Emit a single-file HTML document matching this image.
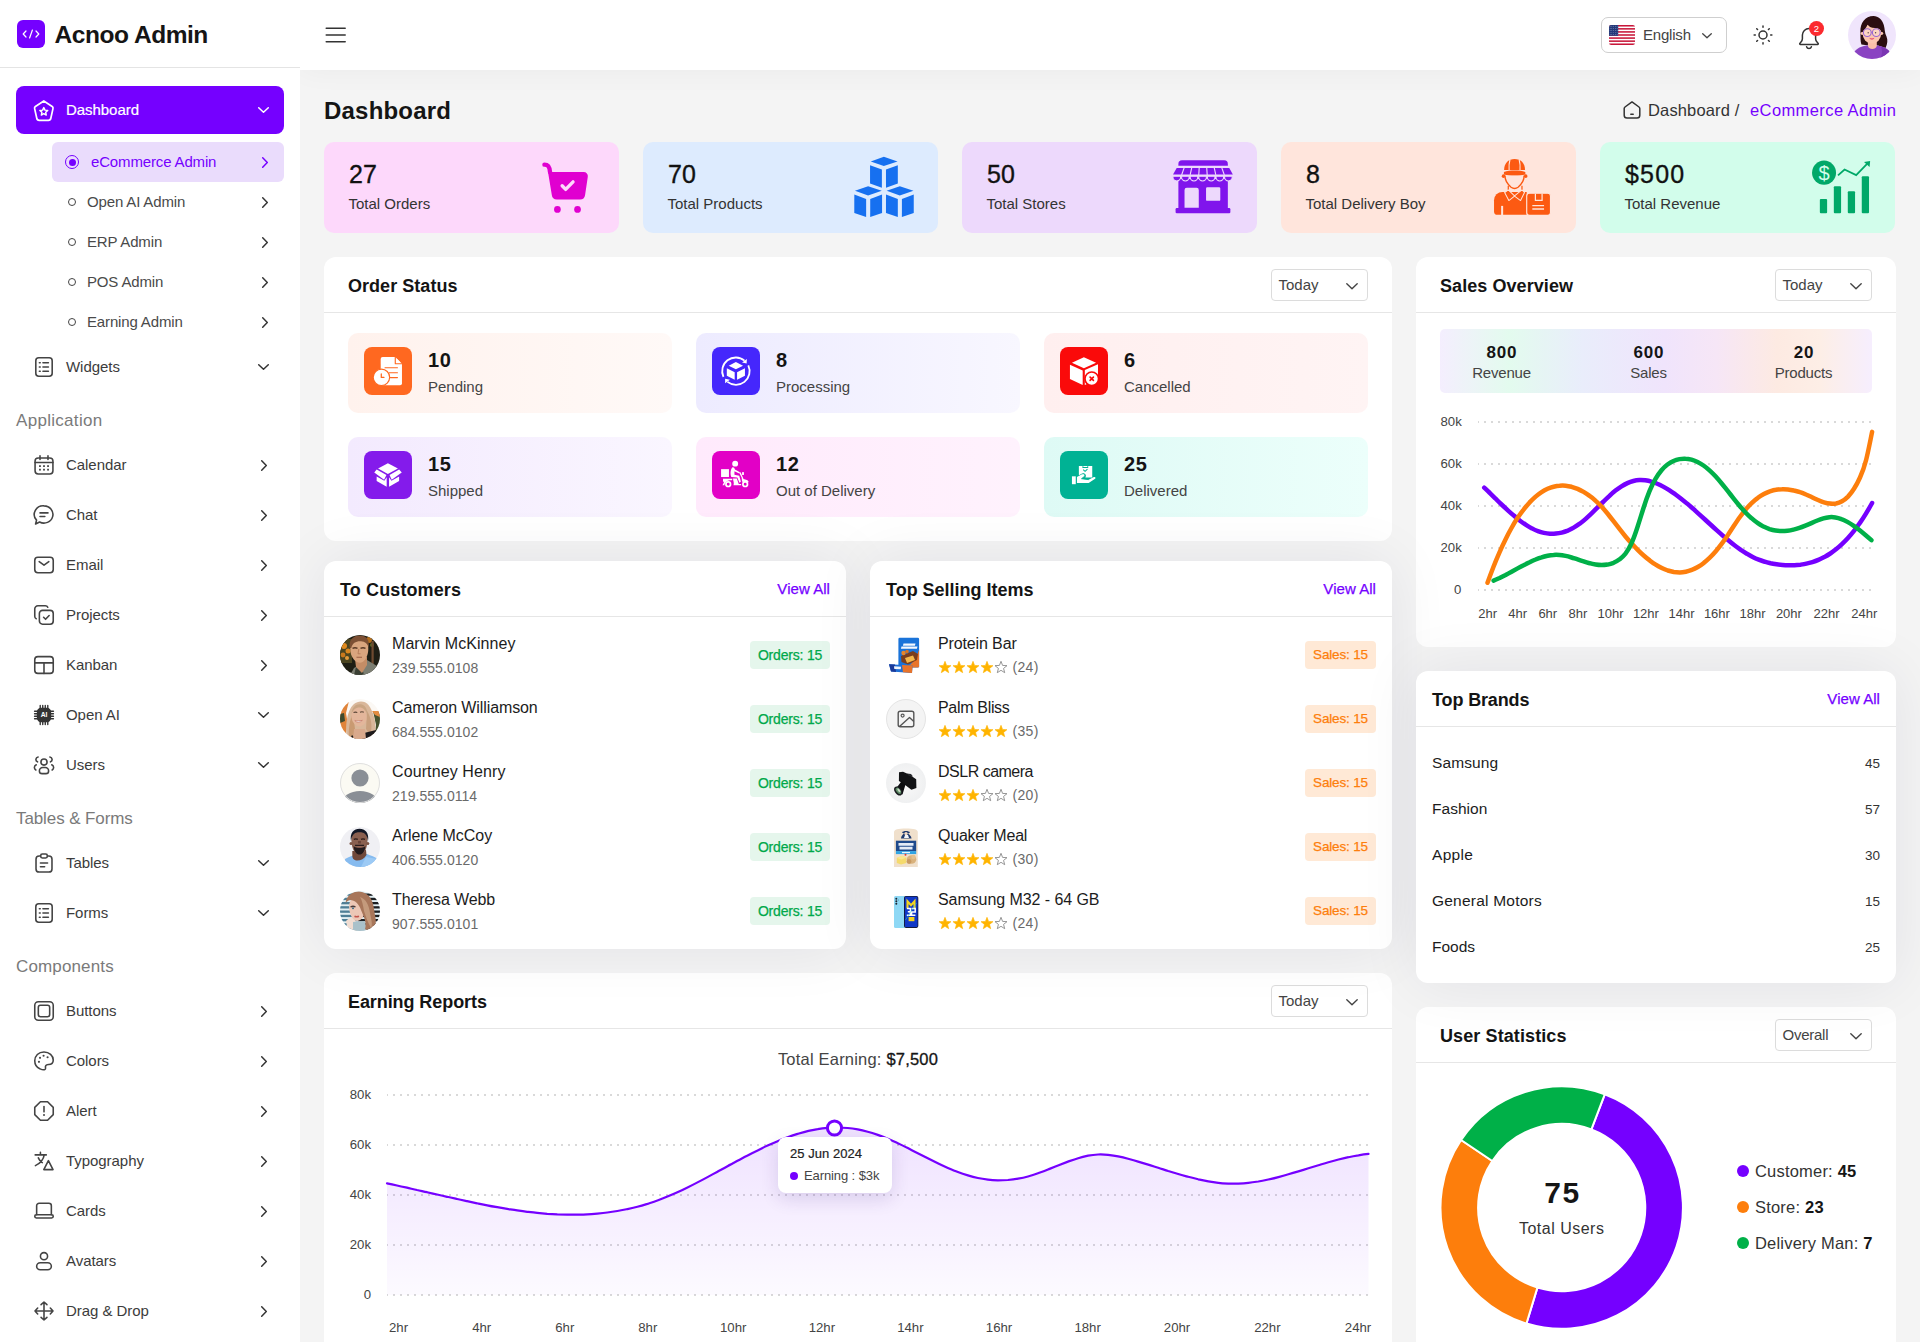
<!DOCTYPE html>
<html lang="en"><head><meta charset="utf-8"><title>Acnoo Admin</title>
<style>

*{box-sizing:border-box;margin:0;padding:0}
html,body{width:1920px;height:1342px;overflow:hidden}
body{font-family:"Liberation Sans",sans-serif;background:#f4f4f4;color:#222;position:relative;font-size:15px}
.abs{position:absolute}
.t{position:absolute;white-space:nowrap;line-height:1}
svg{display:block;overflow:visible}
#sidebar{position:absolute;left:0;top:0;width:300px;height:1342px;background:#fff;z-index:3}
#sbhead{position:absolute;left:0;top:0;width:300px;height:68px;border-bottom:1px solid #e4e4e4}
#topbar{position:absolute;left:300px;top:0;width:1620px;height:70px;background:#fff;box-shadow:0 0 30px rgba(0,0,0,0.045)}
.card{position:absolute;background:#fff;border-radius:12px}
.sh{box-shadow:0 0 60px rgba(28,28,60,0.080)}
.chead{position:absolute;left:0;top:0;right:0;height:56px;border-bottom:1px solid #e6e6e6}
.ctitle{position:absolute;font-weight:700;font-size:18px;line-height:1;color:#141414;white-space:nowrap}
.sel{position:absolute;width:97px;height:32px;border:1px solid #dcdcdc;border-radius:4px;background:#fff}
.sel span{position:absolute;left:6.500px;top:7px;font-size:15px;line-height:1;color:#444}
.sel svg{position:absolute;right:9.500px;top:12.500px}
.viewall{position:absolute;font-size:15px;line-height:1;color:#7500ff;white-space:nowrap;letter-spacing:0.050px;-webkit-text-stroke:0.250px #7500ff}
.mi{position:absolute;left:66px;font-size:15px;line-height:1;color:#3c3c3c;white-space:nowrap;letter-spacing:-0.050px;margin-top:-1px}
.sec{position:absolute;left:16px;font-size:17px;line-height:1;color:#7a7a7a;white-space:nowrap}
.smi{position:absolute;left:87px;font-size:15px;line-height:1;color:#4a4a4a;white-space:nowrap;letter-spacing:-0.150px;margin-top:-1px}
.ic{position:absolute;left:34px;width:20px;height:20px;transform:scale(1.05)}
.chev{position:absolute}
.stat{position:absolute;top:142px;width:295px;height:91px;border-radius:10px}
.stat .n{position:absolute;left:25px;top:20px;font-size:25px;line-height:1;color:#111;-webkit-text-stroke:0.350px #111}
.stat .l{position:absolute;left:24.500px;top:54px;font-size:15px;line-height:1;color:#333}
.tile{position:absolute;width:324px;height:80px;border-radius:10px}
.tile .ib{position:absolute;left:16px;top:14px;width:48px;height:48px;border-radius:8px}
.tile .n{position:absolute;left:80px;top:17px;font-size:20px;font-weight:700;line-height:1;color:#141414;letter-spacing:0.600px}
.tile .l{position:absolute;left:80px;top:46px;font-size:15px;line-height:1;color:#444}

</style></head>
<body>
<div id="sidebar">
<div id="sbhead"><div class="abs" style="left:17px;top:20px;width:28px;height:28px;border-radius:6px;background:#7500ff"></div><svg class="abs" style="left:22px;top:29px" width="18" height="10" viewBox="0 0 18 10"><path d="M4,2 L1.2,5 L4,8 M14,2 L16.800,5 L14,8 M10.400,1 L7.600,9" fill="none" stroke="#fff" stroke-width="1.200" stroke-linecap="round" stroke-linejoin="round"/></svg><div class="t" style="left:54.500px;top:22.900px;font-size:24.500px;font-weight:700;color:#151515;letter-spacing:-0.450px">Acnoo Admin</div></div>
<div class="abs" style="left:16px;top:86px;width:268px;height:48px;border-radius:8px;background:#7500ff"></div>
<svg class="ic" style="left:33.200px;top:99.800px;width:21.600px;height:21.600px" viewBox="0 0 20 20"><path d="M10,1.300 L17.400,6.200 a1.800,1.800 0 0 1 0.700,1.900 L16.200,16.600 a2.200,2.200 0 0 1 -2.200,1.800 H6 a2.200,2.200 0 0 1 -2.200,-1.800 L1.900,8.100 a1.800,1.800 0 0 1 0.700,-1.900z" fill="none" stroke="#fff" stroke-width="1.500" stroke-linejoin="round"/><path d="M10,7.200 l1.050,2.200 l2.400,0.300 l-1.750,1.650 l0.450,2.400 l-2.150,-1.200 l-2.150,1.200 l0.450,-2.400 l-1.750,-1.650 l2.400,-0.300z" fill="none" stroke="#fff" stroke-width="1.300" stroke-linejoin="round"/></svg>
<div class="mi" style="top:102.700px;color:#fff;-webkit-text-stroke:0.200px #fff">Dashboard</div>
<svg class="chev" style="left:257.5px;top:107.0px" width="11" height="6" viewBox="0 0 11 6"><path d="M0.7,0.7 L5.5,5.3 L10.3,0.7" fill="none" stroke="#fff" stroke-width="1.5" stroke-linecap="round" stroke-linejoin="round"/></svg>
<div class="abs" style="left:52px;top:142px;width:232px;height:40px;border-radius:6px;background:#eadcfc"></div>
<div class="abs" style="left:65px;top:155px;width:14px;height:14px;border-radius:50%;border:1.500px solid #7500ff"></div><div class="abs" style="left:68.500px;top:158.500px;width:7px;height:7px;border-radius:50%;background:#7500ff"></div>
<div class="smi" style="left:91px;top:154.500px;color:#7500ff">eCommerce Admin</div>
<svg class="chev" style="left:261.5px;top:156.5px" width="6" height="11" viewBox="0 0 6 11"><path d="M0.7,0.7 L5.3,5.5 L0.7,10.3" fill="none" stroke="#7500ff" stroke-width="1.5" stroke-linecap="round" stroke-linejoin="round"/></svg>
<div class="abs" style="left:68px;top:198px;width:8px;height:8px;border-radius:50%;border:1.500px solid #444"></div>
<div class="smi" style="top:194.5px">Open AI Admin</div>
<svg class="chev" style="left:261.5px;top:196.5px" width="6" height="11" viewBox="0 0 6 11"><path d="M0.7,0.7 L5.3,5.5 L0.7,10.3" fill="none" stroke="#333" stroke-width="1.5" stroke-linecap="round" stroke-linejoin="round"/></svg>
<div class="abs" style="left:68px;top:238px;width:8px;height:8px;border-radius:50%;border:1.500px solid #444"></div>
<div class="smi" style="top:234.5px">ERP Admin</div>
<svg class="chev" style="left:261.5px;top:236.5px" width="6" height="11" viewBox="0 0 6 11"><path d="M0.7,0.7 L5.3,5.5 L0.7,10.3" fill="none" stroke="#333" stroke-width="1.5" stroke-linecap="round" stroke-linejoin="round"/></svg>
<div class="abs" style="left:68px;top:278px;width:8px;height:8px;border-radius:50%;border:1.500px solid #444"></div>
<div class="smi" style="top:274.5px">POS Admin</div>
<svg class="chev" style="left:261.5px;top:276.5px" width="6" height="11" viewBox="0 0 6 11"><path d="M0.7,0.7 L5.3,5.5 L0.7,10.3" fill="none" stroke="#333" stroke-width="1.5" stroke-linecap="round" stroke-linejoin="round"/></svg>
<div class="abs" style="left:68px;top:318px;width:8px;height:8px;border-radius:50%;border:1.500px solid #444"></div>
<div class="smi" style="top:314.5px">Earning Admin</div>
<svg class="chev" style="left:261.5px;top:316.5px" width="6" height="11" viewBox="0 0 6 11"><path d="M0.7,0.7 L5.3,5.5 L0.7,10.3" fill="none" stroke="#333" stroke-width="1.5" stroke-linecap="round" stroke-linejoin="round"/></svg>
<svg class="ic" style="left:34px;top:357px" viewBox="0 0 20 20"><rect x="2.2" y="1.2" width="15.6" height="17.6" rx="2.8" fill="none" stroke="#444" stroke-width="1.5" stroke-linecap="round" stroke-linejoin="round"/><path d="M9,6h5.2M9,10h5.2M9,14h5.2" fill="none" stroke="#444" stroke-width="1.5" stroke-linecap="round" stroke-linejoin="round"/><path d="M5.6,6h.8M5.6,10h.8M5.6,14h.8" fill="none" stroke="#444" stroke-width="1.5" stroke-linecap="round" stroke-linejoin="round"/></svg>
<div class="mi" style="top:359.5px">Widgets</div>
<svg class="chev" style="left:257.5px;top:364.0px" width="11" height="6" viewBox="0 0 11 6"><path d="M0.7,0.7 L5.5,5.3 L10.3,0.7" fill="none" stroke="#333" stroke-width="1.5" stroke-linecap="round" stroke-linejoin="round"/></svg>
<svg class="ic" style="left:34px;top:455px" viewBox="0 0 20 20"><rect x="1.5" y="3.3" width="17" height="15.2" rx="3" fill="none" stroke="#444" stroke-width="1.5" stroke-linecap="round" stroke-linejoin="round"/><path d="M1.5,7.6h17M6.2,1.2v3.6M13.8,1.2v3.6" fill="none" stroke="#444" stroke-width="1.5" stroke-linecap="round" stroke-linejoin="round"/><g fill="#444"><rect x="5.3" y="10.2" width="1.7" height="1.7"/><rect x="9.15" y="10.2" width="1.7" height="1.7"/><rect x="13" y="10.2" width="1.7" height="1.7"/><rect x="5.3" y="13.6" width="1.7" height="1.7"/><rect x="9.15" y="13.6" width="1.7" height="1.7"/><rect x="13" y="13.6" width="1.7" height="1.7"/></g></svg>
<div class="mi" style="top:457.5px">Calendar</div>
<svg class="chev" style="left:260.5px;top:459.5px" width="6" height="11" viewBox="0 0 6 11"><path d="M0.7,0.7 L5.3,5.5 L0.7,10.3" fill="none" stroke="#333" stroke-width="1.5" stroke-linecap="round" stroke-linejoin="round"/></svg>
<svg class="ic" style="left:34px;top:505px" viewBox="0 0 20 20"><path d="M10,1.3a8.6,8.2 0 1 1 -4.2,15.4 L2,18.6 l0.9,-3.7 A8.6,8.2 0 0 1 10,1.3z" fill="none" stroke="#444" stroke-width="1.5" stroke-linecap="round" stroke-linejoin="round"/><path d="M6.2,8h7.6M6.2,11.4h4.6" fill="none" stroke="#444" stroke-width="1.5" stroke-linecap="round" stroke-linejoin="round"/></svg>
<div class="mi" style="top:507.5px">Chat</div>
<svg class="chev" style="left:260.5px;top:509.5px" width="6" height="11" viewBox="0 0 6 11"><path d="M0.7,0.7 L5.3,5.5 L0.7,10.3" fill="none" stroke="#333" stroke-width="1.5" stroke-linecap="round" stroke-linejoin="round"/></svg>
<svg class="ic" style="left:34px;top:555px" viewBox="0 0 20 20"><rect x="1.2" y="2.6" width="17.6" height="14.8" rx="3" fill="none" stroke="#444" stroke-width="1.5" stroke-linecap="round" stroke-linejoin="round"/><path d="M5.4,6.8 L10,10.2 L14.6,6.8" fill="none" stroke="#444" stroke-width="1.5" stroke-linecap="round" stroke-linejoin="round"/></svg>
<div class="mi" style="top:557.5px">Email</div>
<svg class="chev" style="left:260.5px;top:559.5px" width="6" height="11" viewBox="0 0 6 11"><path d="M0.7,0.7 L5.3,5.5 L0.7,10.3" fill="none" stroke="#333" stroke-width="1.5" stroke-linecap="round" stroke-linejoin="round"/></svg>
<svg class="ic" style="left:34px;top:605px" viewBox="0 0 20 20"><rect x="5.6" y="5.6" width="13.2" height="13.2" rx="3" fill="none" stroke="#444" stroke-width="1.5" stroke-linecap="round" stroke-linejoin="round"/><path d="M2.6,13.6 C1.6,13.2 1.2,12.4 1.2,11.2 V4.2 a3,3 0 0 1 3,-3 h7 c1.2,0 2,0.4 2.4,1.4" fill="none" stroke="#444" stroke-width="1.5" stroke-linecap="round" stroke-linejoin="round"/><path d="M9.6,12.2l1.9,1.9l3.4,-3.6" fill="none" stroke="#444" stroke-width="1.5" stroke-linecap="round" stroke-linejoin="round"/></svg>
<div class="mi" style="top:607.5px">Projects</div>
<svg class="chev" style="left:260.5px;top:609.5px" width="6" height="11" viewBox="0 0 6 11"><path d="M0.7,0.7 L5.3,5.5 L0.7,10.3" fill="none" stroke="#333" stroke-width="1.5" stroke-linecap="round" stroke-linejoin="round"/></svg>
<svg class="ic" style="left:34px;top:655px" viewBox="0 0 20 20"><rect x="1.2" y="2" width="17.6" height="16" rx="3" fill="none" stroke="#444" stroke-width="1.5" stroke-linecap="round" stroke-linejoin="round"/><path d="M1.2,8h17.6M10,8v10" fill="none" stroke="#444" stroke-width="1.5" stroke-linecap="round" stroke-linejoin="round"/></svg>
<div class="mi" style="top:657.5px">Kanban</div>
<svg class="chev" style="left:260.5px;top:659.5px" width="6" height="11" viewBox="0 0 6 11"><path d="M0.7,0.7 L5.3,5.5 L0.7,10.3" fill="none" stroke="#333" stroke-width="1.5" stroke-linecap="round" stroke-linejoin="round"/></svg>
<svg class="ic" style="left:34px;top:705px" viewBox="0 0 20 20"><g stroke="#333" stroke-width="1.3" stroke-linecap="round"><path d="M6.4,1v3M8.800,1v3M11.200,1v3M13.600,1v3M6.400,16v3M8.800,16v3M11.200,16v3M13.600,16v3M1,6.400h3M1,8.800h3M1,11.200h3M1,13.600h3M16,6.400h3M16,8.800h3M16,11.200h3M16,13.600h3"/></g><rect x="3.2" y="3.2" width="13.6" height="13.6" rx="4" fill="#333"/><text x="10" y="12.300" font-size="6.400" font-weight="700" fill="#fff" text-anchor="middle" font-family="Liberation Sans, sans-serif">AI</text></svg>
<div class="mi" style="top:707.5px">Open AI</div>
<svg class="chev" style="left:257.5px;top:712.0px" width="11" height="6" viewBox="0 0 11 6"><path d="M0.7,0.7 L5.5,5.3 L10.3,0.7" fill="none" stroke="#333" stroke-width="1.5" stroke-linecap="round" stroke-linejoin="round"/></svg>
<svg class="ic" style="left:34px;top:755px" viewBox="0 0 20 20"><circle cx="10" cy="7.2" r="2.9" fill="none" stroke="#444" stroke-width="1.5" stroke-linecap="round" stroke-linejoin="round"/><path d="M5.6,15.6 a3.2,3.2 0 0 1 3.2,-3.2 h2.4 a3.2,3.2 0 0 1 3.2,3.2 a2.6,2.6 0 0 1 -2.6,2.6 h-3.6 a2.6,2.6 0 0 1 -2.6,-2.6z" fill="none" stroke="#444" stroke-width="1.5" stroke-linecap="round" stroke-linejoin="round"/><path d="M4.4,2.4 a2.4,2.4 0 0 0 -0.6,4.6 M2.6,9.8 a2.8,2.8 0 0 0 -0.4,5 M15.6,2.4 a2.4,2.4 0 0 1 0.6,4.6 M17.4,9.8 a2.8,2.8 0 0 1 0.4,5" fill="none" stroke="#444" stroke-width="1.5" stroke-linecap="round" stroke-linejoin="round"/></svg>
<div class="mi" style="top:757.5px">Users</div>
<svg class="chev" style="left:257.5px;top:762.0px" width="11" height="6" viewBox="0 0 11 6"><path d="M0.7,0.7 L5.5,5.3 L10.3,0.7" fill="none" stroke="#333" stroke-width="1.5" stroke-linecap="round" stroke-linejoin="round"/></svg>
<svg class="ic" style="left:34px;top:853px" viewBox="0 0 20 20"><path d="M6.8,3.4 H5.4 a3,3 0 0 0 -3,3 V15.6 a3,3 0 0 0 3,3 h9.2 a3,3 0 0 0 3,-3 V6.4 a3,3 0 0 0 -3,-3 H13.2" fill="none" stroke="#444" stroke-width="1.5" stroke-linecap="round" stroke-linejoin="round"/><rect x="6.8" y="1.4" width="6.4" height="3.8" rx="1.6" fill="none" stroke="#444" stroke-width="1.5" stroke-linecap="round" stroke-linejoin="round"/><path d="M6.6,10h6.8M6.6,13.6h4" fill="none" stroke="#444" stroke-width="1.5" stroke-linecap="round" stroke-linejoin="round"/></svg>
<div class="mi" style="top:855.5px">Tables</div>
<svg class="chev" style="left:257.5px;top:860.0px" width="11" height="6" viewBox="0 0 11 6"><path d="M0.7,0.7 L5.5,5.3 L10.3,0.7" fill="none" stroke="#333" stroke-width="1.5" stroke-linecap="round" stroke-linejoin="round"/></svg>
<svg class="ic" style="left:34px;top:903px" viewBox="0 0 20 20"><rect x="2.2" y="1.2" width="15.6" height="17.6" rx="2.8" fill="none" stroke="#444" stroke-width="1.5" stroke-linecap="round" stroke-linejoin="round"/><path d="M9,6h5.2M9,10h5.2M9,14h5.2" fill="none" stroke="#444" stroke-width="1.5" stroke-linecap="round" stroke-linejoin="round"/><path d="M5.6,6h.8M5.6,10h.8M5.6,14h.8" fill="none" stroke="#444" stroke-width="1.5" stroke-linecap="round" stroke-linejoin="round"/></svg>
<div class="mi" style="top:905.5px">Forms</div>
<svg class="chev" style="left:257.5px;top:910.0px" width="11" height="6" viewBox="0 0 11 6"><path d="M0.7,0.7 L5.5,5.3 L10.3,0.7" fill="none" stroke="#333" stroke-width="1.5" stroke-linecap="round" stroke-linejoin="round"/></svg>
<svg class="ic" style="left:34px;top:1001px" viewBox="0 0 20 20"><rect x="1.2" y="1.2" width="17.6" height="17.6" rx="3.4" fill="none" stroke="#444" stroke-width="1.5" stroke-linecap="round" stroke-linejoin="round"/><rect x="4.6" y="4.6" width="10.8" height="10.8" rx="2" fill="none" stroke="#444" stroke-width="1.5" stroke-linecap="round" stroke-linejoin="round"/></svg>
<div class="mi" style="top:1003.5px">Buttons</div>
<svg class="chev" style="left:260.5px;top:1005.5px" width="6" height="11" viewBox="0 0 6 11"><path d="M0.7,0.7 L5.3,5.5 L0.7,10.3" fill="none" stroke="#333" stroke-width="1.5" stroke-linecap="round" stroke-linejoin="round"/></svg>
<svg class="ic" style="left:34px;top:1051px" viewBox="0 0 20 20"><path d="M10,1.4 C4.8,1.4 1.2,5 1.2,9.8 c0,3.4 2,6.4 4.8,7.6 c1.8,0.8 3.4,1.6 5,0.6 c1,-0.7 0.2,-1.8 0.4,-2.8 c0.3,-1.4 1.6,-1.8 3,-1.8 c2.6,0 4.400,-1.400 4.400,-4.400 C18.8,4.800 15,1.400 10,1.400z" fill="none" stroke="#444" stroke-width="1.5" stroke-linecap="round" stroke-linejoin="round"/><g fill="#444"><circle cx="6.2" cy="7" r="1"/><circle cx="9.6" cy="5" r="1"/><circle cx="13.4" cy="6.4" r="1"/><circle cx="5.2" cy="10.8" r="1"/></g></svg>
<div class="mi" style="top:1053.5px">Colors</div>
<svg class="chev" style="left:260.5px;top:1055.5px" width="6" height="11" viewBox="0 0 6 11"><path d="M0.7,0.7 L5.3,5.5 L0.7,10.3" fill="none" stroke="#333" stroke-width="1.5" stroke-linecap="round" stroke-linejoin="round"/></svg>
<svg class="ic" style="left:34px;top:1101px" viewBox="0 0 20 20"><path d="M6.6,1.2 h6.8 l5.4,5.4 v6.8 l-5.4,5.4 h-6.8 l-5.4,-5.4 v-6.8z" fill="none" stroke="#444" stroke-width="1.5" stroke-linecap="round" stroke-linejoin="round"/><path d="M10,5.8v5" fill="none" stroke="#444" stroke-width="1.5" stroke-linecap="round" stroke-linejoin="round"/><circle cx="10" cy="13.8" r="0.95" fill="#444"/></svg>
<div class="mi" style="top:1103.5px">Alert</div>
<svg class="chev" style="left:260.5px;top:1105.5px" width="6" height="11" viewBox="0 0 6 11"><path d="M0.7,0.7 L5.3,5.5 L0.7,10.3" fill="none" stroke="#333" stroke-width="1.5" stroke-linecap="round" stroke-linejoin="round"/></svg>
<svg class="ic" style="left:34px;top:1151px" viewBox="0 0 20 20"><path d="M1.6,4.2h10.6M6.6,1.8v2.4M10.2,4.2 C9.6,8.4 6,12.4 1.8,14.4M4.6,7 C5.4,9 6.800,10.600 8.400,11.600" fill="none" stroke="#444" stroke-width="1.5" stroke-linecap="round" stroke-linejoin="round"/><path d="M9.8,18.2 L14.2,9.6 L18.6,18.2z" fill="none" stroke="#444" stroke-width="1.5" stroke-linecap="round" stroke-linejoin="round"/></svg>
<div class="mi" style="top:1153.5px">Typography</div>
<svg class="chev" style="left:260.5px;top:1155.5px" width="6" height="11" viewBox="0 0 6 11"><path d="M0.7,0.7 L5.3,5.5 L0.7,10.3" fill="none" stroke="#333" stroke-width="1.5" stroke-linecap="round" stroke-linejoin="round"/></svg>
<svg class="ic" style="left:34px;top:1201px" viewBox="0 0 20 20"><path d="M3,13.6 V5 a2.400,2.400 0 0 1 2.400,-2.400 h9.2 a2.400,2.400 0 0 1 2.400,2.400 V13.600" fill="none" stroke="#444" stroke-width="1.5" stroke-linecap="round" stroke-linejoin="round"/><rect x="1.2" y="13.6" width="17.6" height="3" rx="1.5" fill="none" stroke="#444" stroke-width="1.5" stroke-linecap="round" stroke-linejoin="round"/></svg>
<div class="mi" style="top:1203.5px">Cards</div>
<svg class="chev" style="left:260.5px;top:1205.5px" width="6" height="11" viewBox="0 0 6 11"><path d="M0.7,0.7 L5.3,5.5 L0.7,10.3" fill="none" stroke="#333" stroke-width="1.5" stroke-linecap="round" stroke-linejoin="round"/></svg>
<svg class="ic" style="left:34px;top:1251px" viewBox="0 0 20 20"><circle cx="10" cy="5.4" r="3.4" fill="none" stroke="#444" stroke-width="1.5" stroke-linecap="round" stroke-linejoin="round"/><rect x="3" y="11.6" width="14" height="6.800" rx="3.400" fill="none" stroke="#444" stroke-width="1.5" stroke-linecap="round" stroke-linejoin="round"/></svg>
<div class="mi" style="top:1253.5px">Avatars</div>
<svg class="chev" style="left:260.5px;top:1255.5px" width="6" height="11" viewBox="0 0 6 11"><path d="M0.7,0.7 L5.3,5.5 L0.7,10.3" fill="none" stroke="#333" stroke-width="1.5" stroke-linecap="round" stroke-linejoin="round"/></svg>
<svg class="ic" style="left:34px;top:1301px" viewBox="0 0 20 20"><path d="M10,1.400v17.200M1.400,10h17.200M7.200,4 L10,1.400 L12.800,4M7.200,16 L10,18.600 L12.800,16M4,7.200 L1.400,10 L4,12.800M16,7.200 L18.600,10 L16,12.800" fill="none" stroke="#444" stroke-width="1.5" stroke-linecap="round" stroke-linejoin="round"/></svg>
<div class="mi" style="top:1303.5px">Drag &amp; Drop</div>
<svg class="chev" style="left:260.5px;top:1305.5px" width="6" height="11" viewBox="0 0 6 11"><path d="M0.7,0.7 L5.3,5.5 L0.7,10.3" fill="none" stroke="#333" stroke-width="1.5" stroke-linecap="round" stroke-linejoin="round"/></svg>
<div class="sec" style="top:411.5px;letter-spacing:0.3px">Application</div>
<div class="sec" style="top:809.5px;letter-spacing:-0.1px">Tables &amp; Forms</div>
<div class="sec" style="top:957.5px;letter-spacing:0.14px">Components</div>
</div>
<div id="topbar"></div>
<svg class="abs" style="left:325px;top:27px" width="22" height="16" viewBox="0 0 22 16"><path d="M1.2,1.200h19M1.200,8h19M1.200,14.800h19" stroke="#333" stroke-width="1.500" stroke-linecap="round"/></svg>
<div class="abs" style="left:1601px;top:17px;width:126px;height:36px;border:1px solid #cfcfcf;border-radius:7px;background:#fff"></div>
<svg class="abs" style="left:1609px;top:25px" width="26" height="20" viewBox="0 0 26 20"><defs><clipPath id="fc"><rect width="26" height="20" rx="2.200"/></clipPath></defs><g clip-path="url(#fc)"><rect width="26" height="20" fill="#fff"/><rect x="0" y="0.00" width="26" height="1.54" fill="#c8173a"/><rect x="0" y="3.08" width="26" height="1.54" fill="#c8173a"/><rect x="0" y="6.15" width="26" height="1.54" fill="#c8173a"/><rect x="0" y="9.23" width="26" height="1.54" fill="#c8173a"/><rect x="0" y="12.31" width="26" height="1.54" fill="#c8173a"/><rect x="0" y="15.38" width="26" height="1.54" fill="#c8173a"/><rect x="0" y="18.46" width="26" height="1.54" fill="#c8173a"/><rect width="9.200" height="10.800" fill="#23397a"/><circle cx="1.10" cy="1.20" r="0.350" fill="#cfd6ea"/><circle cx="2.85" cy="1.20" r="0.350" fill="#cfd6ea"/><circle cx="4.60" cy="1.20" r="0.350" fill="#cfd6ea"/><circle cx="6.35" cy="1.20" r="0.350" fill="#cfd6ea"/><circle cx="8.10" cy="1.20" r="0.350" fill="#cfd6ea"/><circle cx="1.10" cy="3.30" r="0.350" fill="#cfd6ea"/><circle cx="2.85" cy="3.30" r="0.350" fill="#cfd6ea"/><circle cx="4.60" cy="3.30" r="0.350" fill="#cfd6ea"/><circle cx="6.35" cy="3.30" r="0.350" fill="#cfd6ea"/><circle cx="8.10" cy="3.30" r="0.350" fill="#cfd6ea"/><circle cx="1.10" cy="5.40" r="0.350" fill="#cfd6ea"/><circle cx="2.85" cy="5.40" r="0.350" fill="#cfd6ea"/><circle cx="4.60" cy="5.40" r="0.350" fill="#cfd6ea"/><circle cx="6.35" cy="5.40" r="0.350" fill="#cfd6ea"/><circle cx="8.10" cy="5.40" r="0.350" fill="#cfd6ea"/><circle cx="1.10" cy="7.50" r="0.350" fill="#cfd6ea"/><circle cx="2.85" cy="7.50" r="0.350" fill="#cfd6ea"/><circle cx="4.60" cy="7.50" r="0.350" fill="#cfd6ea"/><circle cx="6.35" cy="7.50" r="0.350" fill="#cfd6ea"/><circle cx="8.10" cy="7.50" r="0.350" fill="#cfd6ea"/><circle cx="1.10" cy="9.60" r="0.350" fill="#cfd6ea"/><circle cx="2.85" cy="9.60" r="0.350" fill="#cfd6ea"/><circle cx="4.60" cy="9.60" r="0.350" fill="#cfd6ea"/><circle cx="6.35" cy="9.60" r="0.350" fill="#cfd6ea"/><circle cx="8.10" cy="9.60" r="0.350" fill="#cfd6ea"/></g></svg>
<div class="t" style="left:1643px;top:27px;font-size:15px;color:#444;letter-spacing:-0.200px">English</div>
<svg class="chev" style="left:1701.5px;top:32.75px" width="10" height="5.5" viewBox="0 0 10 5.5"><path d="M0.7,0.7 L5.0,4.8 L9.3,0.7" fill="none" stroke="#444" stroke-width="1.3" stroke-linecap="round" stroke-linejoin="round"/></svg>
<svg class="abs" style="left:1752px;top:24px" width="22" height="22" viewBox="0 0 22 22"><circle cx="11" cy="11" r="4" fill="none" stroke="#333" stroke-width="1.500"/><g stroke="#333" stroke-width="1.500" stroke-linecap="round"><path d="M18.70,11.00L19.90,11.00"/><path d="M16.44,16.44L17.29,17.29"/><path d="M11.00,18.70L11.00,19.90"/><path d="M5.56,16.44L4.71,17.29"/><path d="M3.30,11.00L2.10,11.00"/><path d="M5.56,5.56L4.71,4.71"/><path d="M11.00,3.30L11.00,2.10"/><path d="M16.44,5.56L17.29,4.71"/></g></svg>
<svg class="abs" style="left:1798px;top:27px" width="22" height="23" viewBox="0 0 22 23"><path d="M11,1.500 a6.600,6.600 0 0 0 -6.600,6.600 v3.600 c0,1.400 -0.600,2.600 -1.600,3.600 l-0.900,1 a0.700,0.700 0 0 0 0.500,1.200 h17.200 a0.700,0.700 0 0 0 0.500,-1.200 l-0.900,-1 c-1,-1 -1.600,-2.200 -1.600,-3.600 V8.100 A6.600,6.600 0 0 0 11,1.500z" fill="none" stroke="#333" stroke-width="1.500" stroke-linejoin="round"/><path d="M8.600,19.800 a2.500,2.500 0 0 0 4.800,0" fill="none" stroke="#333" stroke-width="1.500" stroke-linecap="round"/></svg>
<div class="abs" style="left:1809px;top:21px;width:15px;height:15px;border-radius:50%;background:#fb2a2e"></div><div class="t" style="left:1809px;top:24px;width:15px;text-align:center;font-size:9.500px;color:#fff">2</div>
<svg class="abs" style="left:1848px;top:11px" width="48" height="48" viewBox="0 0 48 48"><defs><clipPath id="av0"><circle cx="24" cy="24" r="24"/></clipPath></defs><g clip-path="url(#av0)"><rect width="48" height="48" fill="#f0e5fc"/><path d="M25.500,5 C17,5 12,12 12.400,21 C12.600,26 12.200,30 13.400,33.500 L21,34.500 L30,34.500 L37.500,37 C39.500,33 40,29 38.500,25.500 C36.500,22 37,18 35.800,14 C34.200,8.500 30.500,5 25.500,5z" fill="#2b0d10"/><path d="M6.500,40.500 C10,36 16,34.200 24,34.200 C32,34.200 38,36 41.500,40.500 L44,50 H4z" fill="#8a43c2"/><path d="M33,35.500 C37,36.500 40,38.500 41.500,40.500 L44,50 H30 C34,46 35,41 33,35.500z" fill="#7a36b2"/><path d="M19.900,29 h8.900 v5.400 c0,2 -2,3.600 -4.450,3.600 s-4.450,-1.600 -4.450,-3.600z" fill="#fbbfa9"/><ellipse cx="23.900" cy="22.600" rx="9.300" ry="10" fill="#fcc6b0"/><circle cx="14.200" cy="22.300" r="1.600" fill="#fcc6b0"/><circle cx="33.600" cy="22.300" r="1.600" fill="#fcc6b0"/><path d="M13.600,21.500 C13,13 18,8.500 25,8.500 C31,8.500 35,13 34.600,21.500 C33,18.500 30.500,17.200 27,17 C23,16.800 20.500,15.500 19.600,13.200 C18.500,17 16,19 13.600,21.500z" fill="#2b0d10"/><circle cx="19.300" cy="21.600" r="3.900" fill="#fde0d2" fill-opacity="0.600" stroke="#9a68d2" stroke-width="1.100"/><circle cx="28.300" cy="21.600" r="3.900" fill="#fde0d2" fill-opacity="0.600" stroke="#9a68d2" stroke-width="1.100"/><path d="M23.200,21.300h1.200" stroke="#9a68d2" stroke-width="1.100"/><circle cx="20.200" cy="21.800" r="0.700" fill="#5b4a4a"/><circle cx="27.600" cy="21.800" r="0.700" fill="#5b4a4a"/><path d="M21.700,27.400 q2.200,1.900 4.400,0 q-2.200,0.500 -4.400,0z" fill="#e8476a" stroke="#e8476a" stroke-width="0.500" stroke-linejoin="round"/></g></svg>
<div class="t" style="left:324px;top:98.500px;font-size:24px;font-weight:700;color:#151515;letter-spacing:0.200px">Dashboard</div>
<svg class="abs" style="left:1623px;top:101px" width="18" height="18" viewBox="0 0 18 18"><path d="M9,0.900 L16,6 a2,2 0 0 1 0.800,1.600 V14.300 a2.800,2.800 0 0 1 -2.800,2.800 H4 a2.800,2.800 0 0 1 -2.800,-2.800 V7.600 A2,2 0 0 1 2,6z" fill="none" stroke="#333" stroke-width="1.500" stroke-linejoin="round"/><path d="M7.800,13.300h2.400" stroke="#333" stroke-width="1.500" stroke-linecap="round"/></svg>
<div class="t" style="left:1648px;top:102px;font-size:16.500px;color:#333;letter-spacing:0.150px">Dashboard /</div>
<div class="t" style="left:1750px;top:102px;font-size:16.500px;color:#7500ff;letter-spacing:0.400px">eCommerce Admin</div>
<div class="stat" style="left:324px;background:#fdd8fb"><div class="n">27</div><div class="l">Total Orders</div></div><svg class="abs" style="left:530px;top:150px" width="80" height="75" viewBox="0 0 1431 1342"><path d="M258,262 C330,262 352,300 358,395" fill="none" stroke="#e000d0" stroke-width="78" stroke-linecap="round"/><path d="M322,392 H960 a75,75 0 0 1 74,88 L985,810 a90,90 0 0 1 -90,76 H480 a90,90 0 0 1 -90,-80 Z" fill="#e000d0"/><path d="M575,640 L638,705 L770,570" fill="none" stroke="#fdd8fb" stroke-width="60" stroke-linecap="round" stroke-linejoin="round"/><circle cx="490" cy="1063" r="60" fill="#e000d0"/><circle cx="850" cy="1063" r="60" fill="#e000d0"/></svg>
<div class="stat" style="left:643px;background:#ddebfe"><div class="n">70</div><div class="l">Total Products</div></div><svg class="abs" style="left:845px;top:150px" width="80" height="75" viewBox="0 0 1431 1342"><polygon points="460,205 695,122 940,205 695,288" fill="#1670f0"/><polygon points="448,272 660,350 660,675 448,600" fill="#1670f0"/><polygon points="733,350 945,272 945,600 733,675" fill="#1670f0"/><polygon points="178,731 413,648 658,731 413,814" fill="#1670f0"/><polygon points="166,798 378,876 378,1201 166,1126" fill="#1670f0"/><polygon points="451,876 663,798 663,1126 451,1201" fill="#1670f0"/><polygon points="745,731 980,648 1225,731 980,814" fill="#1670f0"/><polygon points="733,798 945,876 945,1201 733,1126" fill="#1670f0"/><polygon points="1018,876 1230,798 1230,1126 1018,1201" fill="#1670f0"/></svg>
<div class="stat" style="left:962px;background:#edd9fc"><div class="n">50</div><div class="l">Total Stores</div></div><svg class="abs" style="left:1163px;top:150px" width="80" height="75" viewBox="0 0 1431 1342"><path d="M275,283 V250 a65,65 0 0 1 65,-65 H1095 a65,65 0 0 1 65,65 V283z" fill="#8015ec"/><path d="M245,322 H1185 L1250,440 H180z" fill="#8015ec"/><path d="M379,315 L333,447" stroke="#edd9fc" stroke-width="20"/><path d="M514,315 L486,447" stroke="#edd9fc" stroke-width="20"/><path d="M648,315 L639,447" stroke="#edd9fc" stroke-width="20"/><path d="M782,315 L791,447" stroke="#edd9fc" stroke-width="20"/><path d="M916,315 L944,447" stroke="#edd9fc" stroke-width="20"/><path d="M1051,315 L1097,447" stroke="#edd9fc" stroke-width="20"/><rect x="275" y="520" width="885" height="525" fill="#8015ec"/><path d="M178,470 h136 v15 a68,68 0 0 1 -136,0z" fill="#8015ec" stroke="#edd9fc" stroke-width="18"/><path d="M332,470 h136 v15 a68,68 0 0 1 -136,0z" fill="#8015ec" stroke="#edd9fc" stroke-width="18"/><path d="M486,470 h136 v15 a68,68 0 0 1 -136,0z" fill="#8015ec" stroke="#edd9fc" stroke-width="18"/><path d="M640,470 h136 v15 a68,68 0 0 1 -136,0z" fill="#8015ec" stroke="#edd9fc" stroke-width="18"/><path d="M794,470 h136 v15 a68,68 0 0 1 -136,0z" fill="#8015ec" stroke="#edd9fc" stroke-width="18"/><path d="M948,470 h136 v15 a68,68 0 0 1 -136,0z" fill="#8015ec" stroke="#edd9fc" stroke-width="18"/><path d="M1102,470 h136 v15 a68,68 0 0 1 -136,0z" fill="#8015ec" stroke="#edd9fc" stroke-width="18"/><path d="M385,1035 V715 a40,40 0 0 1 40,-40 H600 a40,40 0 0 1 40,40 V1035z" fill="#edd9fc"/><rect x="770" y="665" width="255" height="245" rx="22" fill="#edd9fc"/><rect x="225" y="1040" width="980" height="90" rx="22" fill="#8015ec"/></svg>
<div class="stat" style="left:1281px;background:#ffe5dc"><div class="n">8</div><div class="l">Total Delivery Boy</div></div><svg class="abs" style="left:1482px;top:150px" width="80" height="75" viewBox="0 0 1431 1342"><path d="M395,360 C395,230 480,160 582,160 C690,160 770,230 770,360z" fill="#fc5a12"/><path d="M500,175 C480,240 480,300 485,365 M665,175 C685,240 685,300 680,365" fill="none" stroke="#ffe5dc" stroke-width="20"/><path d="M392,395 C500,360 670,360 775,395 L775,440 C670,470 500,470 392,440z" fill="#fc5a12"/><circle cx="385" cy="468" r="32" fill="#fc5a12"/><circle cx="782" cy="468" r="32" fill="#fc5a12"/><path d="M412,455 C405,560 470,620 520,665 C560,695 605,695 645,665 C695,620 760,560 752,455" fill="#ffe5dc" stroke="#fc5a12" stroke-width="24"/><path d="M470,640 V730 M715,640 V730" stroke="#fc5a12" stroke-width="22"/><path d="M215,1100 V900 a150,150 0 0 1 150,-150 H800 V1160 H275 a60,60 0 0 1 -60,-60z" fill="#fc5a12"/><path d="M470,715 L582,820 L715,715 L760,760 L690,905 L582,825 L480,905 L405,760z" fill="#fc5a12" stroke="#ffe5dc" stroke-width="18" stroke-linejoin="round"/><path d="M360,1000 V1165" stroke="#ffe5dc" stroke-width="36"/><rect x="800" y="775" width="425" height="395" rx="50" fill="#fc5a12" stroke="#ffe5dc" stroke-width="20"/><path d="M955,785 V900 H1075 V785" fill="none" stroke="#ffe5dc" stroke-width="22"/><path d="M900,995 H1110 M900,1055 H1110" stroke="#ffe5dc" stroke-width="26"/></svg>
<div class="stat" style="left:1600px;background:#d2fdeb"><div class="n"><span style="letter-spacing:1.200px">$500</span></div><div class="l">Total Revenue</div></div><svg class="abs" style="left:1800px;top:150px" width="80" height="75" viewBox="0 0 1431 1342"><circle cx="430" cy="405" r="215" fill="#00a868"/><text x="432" y="528" font-size="360" font-family="Liberation Sans, sans-serif" fill="#d2fdeb" text-anchor="middle">$</text><path d="M680,455 L797,350 L1005,450 L1200,250" fill="none" stroke="#00a868" stroke-width="32" stroke-linejoin="miter"/><polygon points="1145,215 1255,195 1245,305" fill="#00a868"/><rect x="355" y="878" width="130" height="255" rx="18" fill="#00a868"/><rect x="605" y="648" width="130" height="485" rx="18" fill="#00a868"/><rect x="855" y="738" width="130" height="395" rx="18" fill="#00a868"/><rect x="1105" y="468" width="130" height="665" rx="18" fill="#00a868"/></svg>
<div class="card" style="left:324px;top:257px;width:1068px;height:284px"><div class="chead"></div><div class="ctitle" style="left:24px;top:19.500px;letter-spacing:0.04px">Order Status</div><div class="sel" style="left:947px;top:12px"><span>Today</span><svg width="12" height="6.500" viewBox="0 0 11 6"><path d="M0.700,0.700 L5.500,5.300 L10.300,0.700" fill="none" stroke="#444" stroke-width="1.300" stroke-linecap="round" stroke-linejoin="round"/></svg></div></div>
<div class="tile" style="left:348px;top:333px;background:linear-gradient(90deg,#fff2ed 0%,#fff9f7 100%)"><div class="ib" style="background:#ff6820"></div><svg class="abs" style="left:16px;top:14px" width="48" height="48" viewBox="170 145 1005 1005"><path d="M520,395 a40,40 0 0 1 40,-40 H825 L965,495 V905 a40,40 0 0 1 -40,40 H560 a40,40 0 0 1 -40,-40z" fill="#fff"/><path d="M825,355 V495 H965" fill="none" stroke="#ff6820" stroke-width="24" stroke-linejoin="round"/><polygon points="850,385 850,470 935,470" fill="#fff"/><path d="M610,580 H870 M700,685 H870 M720,785 H870" stroke="#ff6820" stroke-width="24" stroke-linecap="round"/><circle cx="535" cy="780" r="172" fill="#fff" stroke="#ff6820" stroke-width="24"/><path d="M532,710 V782 H588" fill="none" stroke="#ff6820" stroke-width="26" stroke-linecap="round" stroke-linejoin="round"/></svg><div class="n">10</div><div class="l">Pending</div></div>
<div class="tile" style="left:696px;top:333px;background:linear-gradient(90deg,#edebff 0%,#f8f7ff 100%)"><div class="ib" style="background:#4527fc"></div><svg class="abs" style="left:16px;top:14px" width="48" height="48" viewBox="170 145 1005 1005"><path d="M410,770 A285,285 0 0 1 850,430" fill="none" stroke="#fff" stroke-width="38" stroke-linecap="butt"/><polygon points="800,470 900,395 895,490" fill="#fff"/><path d="M930,530 A285,285 0 0 1 495,875" fill="none" stroke="#fff" stroke-width="38"/><polygon points="545,830 445,905 445,810" fill="#fff"/><polygon points="520,535 670,460 820,535 670,610" fill="#fff"/><polygon points="480,590 645,675 645,830 480,745" fill="#fff"/><polygon points="695,675 860,590 860,745 695,830" fill="#fff"/></svg><div class="n">8</div><div class="l">Processing</div></div>
<div class="tile" style="left:1044px;top:333px;background:linear-gradient(90deg,#ffefef 0%,#fff4f4 100%)"><div class="ib" style="background:#fa0a0a"></div><svg class="abs" style="left:16px;top:14px" width="48" height="48" viewBox="170 145 1005 1005"><polygon points="420,475 670,358 925,475 670,590" fill="#fff"/><polygon points="378,515 645,635 645,940 378,815" fill="#fff"/><polygon points="690,625 965,505 965,815 690,940" fill="#fff"/><circle cx="835" cy="810" r="142" fill="#fff" stroke="#fa0a0a" stroke-width="34"/><path d="M800,775 L870,845 M870,775 L800,845" stroke="#fa0a0a" stroke-width="34" stroke-linecap="round"/></svg><div class="n">6</div><div class="l">Cancelled</div></div>
<div class="tile" style="left:348px;top:437px;background:linear-gradient(90deg,#f3eafe 0%,#faf6ff 100%)"><div class="ib" style="background:#841beb"></div><svg class="abs" style="left:16px;top:14px" width="48" height="48" viewBox="170 145 1005 1005"><polygon points="465,510 670,400 880,510 670,625" fill="#fff"/><polygon points="435,530 640,645 590,745 385,595" fill="#fff"/><polygon points="905,530 960,595 750,745 705,645" fill="#fff"/><polygon points="435,680 595,770 645,695 645,895 435,775" fill="#fff"/><polygon points="695,695 745,770 905,680 905,775 695,895" fill="#fff"/></svg><div class="n">15</div><div class="l">Shipped</div></div>
<div class="tile" style="left:696px;top:437px;background:linear-gradient(90deg,#ffeafc 0%,#fff2fd 100%)"><div class="ib" style="background:#e200c6"></div><svg class="abs" style="left:16px;top:14px" width="48" height="48" viewBox="170 145 1005 1005"><circle cx="655" cy="410" r="62" fill="#fff"/><rect x="360" y="525" width="165" height="165" fill="#fff"/><path d="M600,485 C560,520 545,620 575,690 L700,700 L745,810 L775,790 L740,665 L640,640 L640,570 L740,615 L755,590 L650,530 C640,500 625,480 600,485z" fill="#fff"/><path d="M400,725 H600 L590,760 C540,750 450,760 430,860 L390,860 L425,790 L400,790z" fill="#fff"/><path d="M610,720 H690 L730,835 H780 V860 H620 C640,810 610,770 610,720z" fill="#fff"/><path d="M740,600 L770,590 L830,730 L900,750 C930,765 940,790 940,800 L800,790 L790,700z" fill="#fff"/><rect x="800" y="585" width="38" height="65" rx="14" fill="#fff"/><circle cx="510" cy="840" r="48" fill="none" stroke="#fff" stroke-width="36"/><circle cx="865" cy="840" r="48" fill="none" stroke="#fff" stroke-width="36"/></svg><div class="n">12</div><div class="l">Out of Delivery</div></div>
<div class="tile" style="left:1044px;top:437px;background:linear-gradient(90deg,#defaf5 0%,#ecfffb 100%)"><div class="ib" style="background:#00b294"></div><svg class="abs" style="left:16px;top:14px" width="48" height="48" viewBox="170 145 1005 1005"><rect x="420" y="675" width="80" height="165" fill="#fff"/><path d="M565,460 H845 V700 L700,700 C720,670 715,630 680,615 C650,605 620,620 565,655z" fill="#fff"/><path d="M650,462 V490 H750 V462" fill="none" stroke="#00b294" stroke-width="22"/><path d="M655,535 L695,570 L745,525" fill="none" stroke="#00b294" stroke-width="22"/><path d="M525,690 L640,625 C680,610 705,650 680,680 L620,725 L770,745 L880,690 C905,680 925,705 905,725 L770,815 H525z" fill="#fff"/><path d="M640,625 C680,610 705,650 680,680 L620,725 L770,745" fill="none" stroke="#00b294" stroke-width="18"/></svg><div class="n">25</div><div class="l">Delivered</div></div>
<div class="card" style="left:324px;top:973px;width:1068px;height:400px"><div class="chead"></div><div class="ctitle" style="left:24px;top:19.500px;letter-spacing:-0.08px">Earning Reports</div><div class="sel" style="left:947px;top:12px"><span>Today</span><svg width="12" height="6.500" viewBox="0 0 11 6"><path d="M0.700,0.700 L5.500,5.300 L10.300,0.700" fill="none" stroke="#444" stroke-width="1.300" stroke-linecap="round" stroke-linejoin="round"/></svg></div></div>
<div class="t" style="left:658px;width:400px;text-align:center;top:1051px;font-size:16.500px;color:#444;letter-spacing:0.200px">Total Earning: <span style="color:#151515;-webkit-text-stroke:0.300px #151515">$7,500</span></div>
<svg class="abs" style="left:0;top:0" width="1920" height="1342" viewBox="0 0 1920 1342"><defs><linearGradient id="eg" x1="0" y1="0" x2="0" y2="1"><stop offset="0" stop-color="#7500ff" stop-opacity="0.115"/><stop offset="1" stop-color="#7500ff" stop-opacity="0.020"/></linearGradient></defs><path d="M387,1095H1368.500" stroke="#d9d9d9" stroke-width="2" stroke-dasharray="2,5" stroke-dashoffset="1"/><path d="M387,1145H1368.500" stroke="#d9d9d9" stroke-width="2" stroke-dasharray="2,5" stroke-dashoffset="1"/><path d="M387,1195H1368.500" stroke="#d9d9d9" stroke-width="2" stroke-dasharray="2,5" stroke-dashoffset="1"/><path d="M387,1245H1368.500" stroke="#d9d9d9" stroke-width="2" stroke-dasharray="2,5" stroke-dashoffset="1"/><path d="M387,1295H1368.500" stroke="#d9d9d9" stroke-width="2" stroke-dasharray="2,5" stroke-dashoffset="1"/><path d="M387.0,1183.4 C390.3,1184.1 393.7,1184.8 397.0,1185.5 C400.4,1186.3 403.7,1187.0 407.0,1187.7 C410.4,1188.5 413.7,1189.2 417.0,1190.0 C420.4,1190.7 423.7,1191.5 427.1,1192.2 C430.4,1193.0 433.7,1193.8 437.1,1194.5 C440.4,1195.3 443.8,1196.1 447.1,1196.8 C450.4,1197.6 453.8,1198.3 457.1,1199.0 C460.4,1199.8 463.8,1200.5 467.1,1201.2 C470.5,1201.9 473.8,1202.6 477.1,1203.3 C480.5,1204.0 483.8,1204.7 487.2,1205.3 C490.5,1206.0 493.8,1206.6 497.2,1207.2 C500.5,1207.8 503.8,1208.4 507.2,1208.9 C510.5,1209.4 513.9,1210.0 517.2,1210.4 C520.5,1210.9 523.9,1211.4 527.2,1211.8 C530.6,1212.2 533.9,1212.6 537.2,1212.9 C540.6,1213.2 543.9,1213.5 547.2,1213.8 C550.6,1214.0 553.9,1214.2 557.3,1214.4 C560.6,1214.5 563.9,1214.6 567.3,1214.7 C570.6,1214.7 574.0,1214.7 577.3,1214.7 C580.6,1214.6 584.0,1214.5 587.3,1214.3 C590.6,1214.2 594.0,1213.9 597.3,1213.6 C600.7,1213.3 604.0,1213.0 607.3,1212.5 C610.7,1212.1 614.0,1211.6 617.4,1211.0 C620.7,1210.5 624.0,1209.8 627.4,1209.1 C630.7,1208.4 634.0,1207.6 637.4,1206.7 C640.7,1205.9 644.1,1204.9 647.4,1203.9 C650.7,1202.8 654.1,1201.7 657.4,1200.5 C660.8,1199.3 664.1,1198.0 667.4,1196.6 C670.8,1195.2 674.1,1193.8 677.4,1192.3 C680.8,1190.7 684.1,1189.1 687.5,1187.5 C690.8,1185.9 694.1,1184.2 697.5,1182.4 C700.8,1180.7 704.2,1178.9 707.5,1177.1 C710.8,1175.3 714.2,1173.5 717.5,1171.7 C720.8,1169.9 724.2,1168.1 727.5,1166.2 C730.9,1164.4 734.2,1162.6 737.5,1160.8 C740.9,1159.0 744.2,1157.2 747.6,1155.5 C750.9,1153.7 754.2,1152.0 757.6,1150.4 C760.9,1148.7 764.2,1147.1 767.6,1145.6 C770.9,1144.1 774.3,1142.6 777.6,1141.2 C780.9,1139.8 784.3,1138.5 787.6,1137.2 C791.0,1136.0 794.3,1134.9 797.6,1133.9 C801.0,1132.9 804.3,1131.9 807.6,1131.1 C811.0,1130.4 814.3,1129.7 817.7,1129.2 C821.0,1128.6 824.3,1128.2 827.7,1127.9 C831.0,1127.7 834.4,1127.5 837.7,1127.5 C841.0,1127.5 844.4,1127.7 847.7,1128.0 C851.0,1128.3 854.4,1128.8 857.7,1129.4 C861.1,1130.0 864.4,1130.8 867.7,1131.7 C871.1,1132.6 874.4,1133.7 877.8,1134.9 C881.1,1136.1 884.4,1137.4 887.8,1138.8 C891.1,1140.2 894.4,1141.7 897.8,1143.2 C901.1,1144.8 904.5,1146.4 907.8,1148.1 C911.1,1149.8 914.5,1151.5 917.8,1153.2 C921.1,1154.9 924.5,1156.6 927.8,1158.3 C931.2,1160.0 934.5,1161.6 937.8,1163.2 C941.2,1164.9 944.5,1166.4 947.9,1167.9 C951.2,1169.3 954.5,1170.7 957.9,1172.0 C961.2,1173.3 964.5,1174.4 967.9,1175.4 C971.2,1176.4 974.6,1177.3 977.9,1178.0 C981.2,1178.7 984.6,1179.2 987.9,1179.6 C991.3,1180.0 994.6,1180.2 997.9,1180.3 C1001.3,1180.3 1004.6,1180.2 1007.9,1180.0 C1011.3,1179.7 1014.6,1179.3 1018.0,1178.7 C1021.3,1178.1 1024.6,1177.4 1028.0,1176.5 C1031.3,1175.6 1034.7,1174.5 1038.0,1173.3 C1041.3,1172.1 1044.7,1170.9 1048.0,1169.5 C1051.3,1168.2 1054.7,1166.9 1058.0,1165.5 C1061.4,1164.2 1064.7,1162.9 1068.0,1161.6 C1071.4,1160.4 1074.7,1159.2 1078.1,1158.2 C1081.4,1157.2 1084.7,1156.4 1088.1,1155.7 C1091.4,1155.1 1094.7,1154.7 1098.1,1154.5 C1101.4,1154.4 1104.8,1154.5 1108.1,1154.8 C1111.4,1155.2 1114.8,1155.7 1118.1,1156.4 C1121.5,1157.1 1124.8,1157.9 1128.1,1158.8 C1131.5,1159.7 1134.8,1160.6 1138.1,1161.6 C1141.5,1162.6 1144.8,1163.6 1148.2,1164.6 C1151.5,1165.7 1154.8,1166.7 1158.2,1167.8 C1161.5,1168.9 1164.9,1169.9 1168.2,1171.0 C1171.5,1172.0 1174.9,1173.0 1178.2,1174.0 C1181.5,1175.0 1184.9,1175.9 1188.2,1176.8 C1191.6,1177.7 1194.9,1178.5 1198.2,1179.3 C1201.6,1180.0 1204.9,1180.7 1208.3,1181.3 C1211.6,1181.9 1214.9,1182.4 1218.3,1182.8 C1221.6,1183.2 1224.9,1183.4 1228.3,1183.6 C1231.6,1183.7 1235.0,1183.8 1238.3,1183.6 C1241.6,1183.5 1245.0,1183.3 1248.3,1182.9 C1251.7,1182.5 1255.0,1182.0 1258.3,1181.5 C1261.7,1180.9 1265.0,1180.2 1268.3,1179.5 C1271.7,1178.8 1275.0,1178.0 1278.4,1177.1 C1281.7,1176.2 1285.0,1175.3 1288.4,1174.3 C1291.7,1173.4 1295.1,1172.4 1298.4,1171.4 C1301.7,1170.4 1305.1,1169.3 1308.4,1168.3 C1311.7,1167.3 1315.1,1166.2 1318.4,1165.2 C1321.8,1164.2 1325.1,1163.2 1328.4,1162.3 C1331.8,1161.3 1335.1,1160.4 1338.5,1159.5 C1341.8,1158.7 1345.1,1157.9 1348.5,1157.2 C1351.8,1156.4 1355.1,1155.8 1358.5,1155.3 C1361.8,1154.7 1365.2,1154.2 1368.5,1153.9 L1368.5,1295 L387.0,1295 Z" fill="url(#eg)"/><text x="371" y="1098.9" font-size="13.200" fill="#444" text-anchor="end" font-family="Liberation Sans, sans-serif">80k</text><text x="371" y="1148.9" font-size="13.200" fill="#444" text-anchor="end" font-family="Liberation Sans, sans-serif">60k</text><text x="371" y="1198.9" font-size="13.200" fill="#444" text-anchor="end" font-family="Liberation Sans, sans-serif">40k</text><text x="371" y="1248.9" font-size="13.200" fill="#444" text-anchor="end" font-family="Liberation Sans, sans-serif">20k</text><text x="371" y="1298.9" font-size="13.200" fill="#444" text-anchor="end" font-family="Liberation Sans, sans-serif">0</text><text x="398.5" y="1332.400" font-size="13.200" fill="#444" text-anchor="middle" font-family="Liberation Sans, sans-serif">2hr</text><text x="481.7" y="1332.400" font-size="13.200" fill="#444" text-anchor="middle" font-family="Liberation Sans, sans-serif">4hr</text><text x="564.8" y="1332.400" font-size="13.200" fill="#444" text-anchor="middle" font-family="Liberation Sans, sans-serif">6hr</text><text x="647.8" y="1332.400" font-size="13.200" fill="#444" text-anchor="middle" font-family="Liberation Sans, sans-serif">8hr</text><text x="733.2" y="1332.400" font-size="13.200" fill="#444" text-anchor="middle" font-family="Liberation Sans, sans-serif">10hr</text><text x="821.9" y="1332.400" font-size="13.200" fill="#444" text-anchor="middle" font-family="Liberation Sans, sans-serif">12hr</text><text x="910.4" y="1332.400" font-size="13.200" fill="#444" text-anchor="middle" font-family="Liberation Sans, sans-serif">14hr</text><text x="999" y="1332.400" font-size="13.200" fill="#444" text-anchor="middle" font-family="Liberation Sans, sans-serif">16hr</text><text x="1087.6" y="1332.400" font-size="13.200" fill="#444" text-anchor="middle" font-family="Liberation Sans, sans-serif">18hr</text><text x="1177" y="1332.400" font-size="13.200" fill="#444" text-anchor="middle" font-family="Liberation Sans, sans-serif">20hr</text><text x="1267.4" y="1332.400" font-size="13.200" fill="#444" text-anchor="middle" font-family="Liberation Sans, sans-serif">22hr</text><text x="1358" y="1332.400" font-size="13.200" fill="#444" text-anchor="middle" font-family="Liberation Sans, sans-serif">24hr</text><path d="M387.0,1183.4 C390.3,1184.1 393.7,1184.8 397.0,1185.5 C400.4,1186.3 403.7,1187.0 407.0,1187.7 C410.4,1188.5 413.7,1189.2 417.0,1190.0 C420.4,1190.7 423.7,1191.5 427.1,1192.2 C430.4,1193.0 433.7,1193.8 437.1,1194.5 C440.4,1195.3 443.8,1196.1 447.1,1196.8 C450.4,1197.6 453.8,1198.3 457.1,1199.0 C460.4,1199.8 463.8,1200.5 467.1,1201.2 C470.5,1201.9 473.8,1202.6 477.1,1203.3 C480.5,1204.0 483.8,1204.7 487.2,1205.3 C490.5,1206.0 493.8,1206.6 497.2,1207.2 C500.5,1207.8 503.8,1208.4 507.2,1208.9 C510.5,1209.4 513.9,1210.0 517.2,1210.4 C520.5,1210.9 523.9,1211.4 527.2,1211.8 C530.6,1212.2 533.9,1212.6 537.2,1212.9 C540.6,1213.2 543.9,1213.5 547.2,1213.8 C550.6,1214.0 553.9,1214.2 557.3,1214.4 C560.6,1214.5 563.9,1214.6 567.3,1214.7 C570.6,1214.7 574.0,1214.7 577.3,1214.7 C580.6,1214.6 584.0,1214.5 587.3,1214.3 C590.6,1214.2 594.0,1213.9 597.3,1213.6 C600.7,1213.3 604.0,1213.0 607.3,1212.5 C610.7,1212.1 614.0,1211.6 617.4,1211.0 C620.7,1210.5 624.0,1209.8 627.4,1209.1 C630.7,1208.4 634.0,1207.6 637.4,1206.7 C640.7,1205.9 644.1,1204.9 647.4,1203.9 C650.7,1202.8 654.1,1201.7 657.4,1200.5 C660.8,1199.3 664.1,1198.0 667.4,1196.6 C670.8,1195.2 674.1,1193.8 677.4,1192.3 C680.8,1190.7 684.1,1189.1 687.5,1187.5 C690.8,1185.9 694.1,1184.2 697.5,1182.4 C700.8,1180.7 704.2,1178.9 707.5,1177.1 C710.8,1175.3 714.2,1173.5 717.5,1171.7 C720.8,1169.9 724.2,1168.1 727.5,1166.2 C730.9,1164.4 734.2,1162.6 737.5,1160.8 C740.9,1159.0 744.2,1157.2 747.6,1155.5 C750.9,1153.7 754.2,1152.0 757.6,1150.4 C760.9,1148.7 764.2,1147.1 767.6,1145.6 C770.9,1144.1 774.3,1142.6 777.6,1141.2 C780.9,1139.8 784.3,1138.5 787.6,1137.2 C791.0,1136.0 794.3,1134.9 797.6,1133.9 C801.0,1132.9 804.3,1131.9 807.6,1131.1 C811.0,1130.4 814.3,1129.7 817.7,1129.2 C821.0,1128.6 824.3,1128.2 827.7,1127.9 C831.0,1127.7 834.4,1127.5 837.7,1127.5 C841.0,1127.5 844.4,1127.7 847.7,1128.0 C851.0,1128.3 854.4,1128.8 857.7,1129.4 C861.1,1130.0 864.4,1130.8 867.7,1131.7 C871.1,1132.6 874.4,1133.7 877.8,1134.9 C881.1,1136.1 884.4,1137.4 887.8,1138.8 C891.1,1140.2 894.4,1141.7 897.8,1143.2 C901.1,1144.8 904.5,1146.4 907.8,1148.1 C911.1,1149.8 914.5,1151.5 917.8,1153.2 C921.1,1154.9 924.5,1156.6 927.8,1158.3 C931.2,1160.0 934.5,1161.6 937.8,1163.2 C941.2,1164.9 944.5,1166.4 947.9,1167.9 C951.2,1169.3 954.5,1170.7 957.9,1172.0 C961.2,1173.3 964.5,1174.4 967.9,1175.4 C971.2,1176.4 974.6,1177.3 977.9,1178.0 C981.2,1178.7 984.6,1179.2 987.9,1179.6 C991.3,1180.0 994.6,1180.2 997.9,1180.3 C1001.3,1180.3 1004.6,1180.2 1007.9,1180.0 C1011.3,1179.7 1014.6,1179.3 1018.0,1178.7 C1021.3,1178.1 1024.6,1177.4 1028.0,1176.5 C1031.3,1175.6 1034.7,1174.5 1038.0,1173.3 C1041.3,1172.1 1044.7,1170.9 1048.0,1169.5 C1051.3,1168.2 1054.7,1166.9 1058.0,1165.5 C1061.4,1164.2 1064.7,1162.9 1068.0,1161.6 C1071.4,1160.4 1074.7,1159.2 1078.1,1158.2 C1081.4,1157.2 1084.7,1156.4 1088.1,1155.7 C1091.4,1155.1 1094.7,1154.7 1098.1,1154.5 C1101.4,1154.4 1104.8,1154.5 1108.1,1154.8 C1111.4,1155.2 1114.8,1155.7 1118.1,1156.4 C1121.5,1157.1 1124.8,1157.9 1128.1,1158.8 C1131.5,1159.7 1134.8,1160.6 1138.1,1161.6 C1141.5,1162.6 1144.8,1163.6 1148.2,1164.6 C1151.5,1165.7 1154.8,1166.7 1158.2,1167.8 C1161.5,1168.9 1164.9,1169.9 1168.2,1171.0 C1171.5,1172.0 1174.9,1173.0 1178.2,1174.0 C1181.5,1175.0 1184.9,1175.9 1188.2,1176.8 C1191.6,1177.7 1194.9,1178.5 1198.2,1179.3 C1201.6,1180.0 1204.9,1180.7 1208.3,1181.3 C1211.6,1181.9 1214.9,1182.4 1218.3,1182.8 C1221.6,1183.2 1224.9,1183.4 1228.3,1183.6 C1231.6,1183.7 1235.0,1183.8 1238.3,1183.6 C1241.6,1183.5 1245.0,1183.3 1248.3,1182.9 C1251.7,1182.5 1255.0,1182.0 1258.3,1181.5 C1261.7,1180.9 1265.0,1180.2 1268.3,1179.5 C1271.7,1178.8 1275.0,1178.0 1278.4,1177.1 C1281.7,1176.2 1285.0,1175.3 1288.4,1174.3 C1291.7,1173.4 1295.1,1172.4 1298.4,1171.4 C1301.7,1170.4 1305.1,1169.3 1308.4,1168.3 C1311.7,1167.3 1315.1,1166.2 1318.4,1165.2 C1321.8,1164.2 1325.1,1163.2 1328.4,1162.3 C1331.8,1161.3 1335.1,1160.4 1338.5,1159.5 C1341.8,1158.7 1345.1,1157.9 1348.5,1157.2 C1351.8,1156.4 1355.1,1155.8 1358.5,1155.3 C1361.8,1154.7 1365.2,1154.2 1368.5,1153.9" fill="none" stroke="#7500ff" stroke-width="2.200" stroke-linecap="round" stroke-linejoin="round"/><circle cx="834.500" cy="1128" r="7.100" fill="#fff" stroke="#7500ff" stroke-width="3"/></svg>
<div class="abs" style="left:778px;top:1137px;width:114px;height:56px;border-radius:8px;background:#fff;box-shadow:0 6px 18px rgba(60,30,120,0.140)"></div>
<div class="t" style="left:790px;top:1146.800px;font-size:13px;color:#222;letter-spacing:0.050px;-webkit-text-stroke:0.200px #222">25 Jun 2024</div>
<div class="abs" style="left:790px;top:1172px;width:8px;height:8px;border-radius:50%;background:#7500ff"></div>
<div class="t" style="left:804px;top:1168.900px;font-size:13px;color:#444;letter-spacing:-0.100px">Earning : $3k</div>
<div class="card" style="left:1416px;top:257px;width:480px;height:390px"><div class="chead"></div><div class="ctitle" style="left:24px;top:19.500px;letter-spacing:0.07px">Sales Overview</div><div class="sel" style="left:359px;top:12px"><span>Today</span><svg width="12" height="6.500" viewBox="0 0 11 6"><path d="M0.700,0.700 L5.500,5.300 L10.300,0.700" fill="none" stroke="#444" stroke-width="1.300" stroke-linecap="round" stroke-linejoin="round"/></svg></div></div>
<div class="abs" style="left:1440px;top:329px;width:432px;height:64px;border-radius:5px;background:linear-gradient(90deg,#f4eefe 0%,#e3fbee 16%,#e9edfb 33%,#f0e4fc 52%,#f6e6f6 64%,#fdeae2 78%,#fdeee6 88%,#f6eefe 100%)"></div>
<div class="t" style="left:1441.5px;width:120px;text-align:center;top:343.500px;font-size:17px;font-weight:700;color:#151515;letter-spacing:0.800px;text-indent:0.800px">800</div>
<div class="t" style="left:1441.5px;width:120px;text-align:center;top:364.800px;font-size:15px;color:#444;letter-spacing:-0.200px">Revenue</div>
<div class="t" style="left:1588.5px;width:120px;text-align:center;top:343.500px;font-size:17px;font-weight:700;color:#151515;letter-spacing:0.800px;text-indent:0.800px">600</div>
<div class="t" style="left:1588.5px;width:120px;text-align:center;top:364.800px;font-size:15px;color:#444;letter-spacing:-0.200px">Sales</div>
<div class="t" style="left:1743.5px;width:120px;text-align:center;top:343.500px;font-size:17px;font-weight:700;color:#151515;letter-spacing:0.800px;text-indent:0.800px">20</div>
<div class="t" style="left:1743.5px;width:120px;text-align:center;top:364.800px;font-size:15px;color:#444;letter-spacing:-0.200px">Products</div>
<svg class="abs" style="left:0;top:0" width="1920" height="1342" viewBox="0 0 1920 1342" pointer-events="none"><path d="M1478,422H1872" stroke="#d9d9d9" stroke-width="2" stroke-dasharray="2,5" stroke-dashoffset="1"/><path d="M1478,464H1872" stroke="#d9d9d9" stroke-width="2" stroke-dasharray="2,5" stroke-dashoffset="1"/><path d="M1478,506H1872" stroke="#d9d9d9" stroke-width="2" stroke-dasharray="2,5" stroke-dashoffset="1"/><path d="M1478,548H1872" stroke="#d9d9d9" stroke-width="2" stroke-dasharray="2,5" stroke-dashoffset="1"/><path d="M1478,590H1872" stroke="#d9d9d9" stroke-width="2" stroke-dasharray="2,5" stroke-dashoffset="1"/><text x="1440.500" y="425.9" font-size="13.200" fill="#444" font-family="Liberation Sans, sans-serif">80k</text><text x="1440.500" y="467.9" font-size="13.200" fill="#444" font-family="Liberation Sans, sans-serif">60k</text><text x="1440.500" y="509.9" font-size="13.200" fill="#444" font-family="Liberation Sans, sans-serif">40k</text><text x="1440.500" y="551.9" font-size="13.200" fill="#444" font-family="Liberation Sans, sans-serif">20k</text><text x="1454" y="593.900" font-size="13.200" fill="#444" font-family="Liberation Sans, sans-serif">0</text><text x="1487.7" y="617.800" font-size="13" fill="#444" text-anchor="middle" font-family="Liberation Sans, sans-serif">2hr</text><text x="1517.7" y="617.800" font-size="13" fill="#444" text-anchor="middle" font-family="Liberation Sans, sans-serif">4hr</text><text x="1547.8" y="617.800" font-size="13" fill="#444" text-anchor="middle" font-family="Liberation Sans, sans-serif">6hr</text><text x="1577.9" y="617.800" font-size="13" fill="#444" text-anchor="middle" font-family="Liberation Sans, sans-serif">8hr</text><text x="1610.5" y="617.800" font-size="13" fill="#444" text-anchor="middle" font-family="Liberation Sans, sans-serif">10hr</text><text x="1645.9" y="617.800" font-size="13" fill="#444" text-anchor="middle" font-family="Liberation Sans, sans-serif">12hr</text><text x="1681.6" y="617.800" font-size="13" fill="#444" text-anchor="middle" font-family="Liberation Sans, sans-serif">14hr</text><text x="1716.9" y="617.800" font-size="13" fill="#444" text-anchor="middle" font-family="Liberation Sans, sans-serif">16hr</text><text x="1752.5" y="617.800" font-size="13" fill="#444" text-anchor="middle" font-family="Liberation Sans, sans-serif">18hr</text><text x="1788.9" y="617.800" font-size="13" fill="#444" text-anchor="middle" font-family="Liberation Sans, sans-serif">20hr</text><text x="1826.5" y="617.800" font-size="13" fill="#444" text-anchor="middle" font-family="Liberation Sans, sans-serif">22hr</text><text x="1864.3" y="617.800" font-size="13" fill="#444" text-anchor="middle" font-family="Liberation Sans, sans-serif">24hr</text><path d="M1484.2,487.7 C1486.2,489.5 1488.2,491.5 1490.2,493.4 C1492.2,495.3 1494.2,497.3 1496.2,499.2 C1498.1,501.2 1500.1,503.1 1502.1,505.0 C1504.1,506.9 1506.1,508.8 1508.1,510.6 C1510.1,512.4 1512.1,514.2 1514.1,515.8 C1516.0,517.5 1518.0,519.2 1520.0,520.7 C1522.0,522.2 1524.0,523.6 1526.0,524.9 C1528.0,526.2 1530.0,527.4 1532.0,528.4 C1533.9,529.5 1535.9,530.4 1537.9,531.1 C1539.9,531.9 1541.9,532.5 1543.9,532.9 C1545.9,533.3 1547.9,533.6 1549.9,533.7 C1551.8,533.9 1553.8,533.8 1555.8,533.6 C1557.8,533.4 1559.8,533.1 1561.8,532.6 C1563.8,532.1 1565.8,531.4 1567.8,530.6 C1569.7,529.7 1571.7,528.8 1573.7,527.6 C1575.7,526.5 1577.7,525.1 1579.7,523.7 C1581.7,522.2 1583.7,520.6 1585.7,518.8 C1587.6,517.1 1589.6,515.2 1591.6,513.3 C1593.6,511.4 1595.6,509.4 1597.6,507.4 C1599.6,505.4 1601.6,503.4 1603.6,501.5 C1605.5,499.5 1607.5,497.6 1609.5,495.8 C1611.5,493.9 1613.5,492.2 1615.5,490.6 C1617.5,489.0 1619.5,487.6 1621.5,486.3 C1623.4,485.1 1625.4,484.0 1627.4,483.1 C1629.4,482.2 1631.4,481.5 1633.4,481.0 C1635.4,480.5 1637.4,480.2 1639.4,480.1 C1641.3,480.0 1643.3,480.1 1645.3,480.3 C1647.3,480.6 1649.3,481.0 1651.3,481.6 C1653.3,482.1 1655.3,482.8 1657.3,483.7 C1659.2,484.5 1661.2,485.5 1663.2,486.6 C1665.2,487.7 1667.2,488.8 1669.2,490.1 C1671.2,491.4 1673.2,492.8 1675.2,494.2 C1677.1,495.6 1679.1,497.1 1681.1,498.7 C1683.1,500.3 1685.1,501.9 1687.1,503.6 C1689.1,505.2 1691.1,507.0 1693.1,508.7 C1695.0,510.5 1697.0,512.3 1699.0,514.1 C1701.0,515.9 1703.0,517.7 1705.0,519.5 C1707.0,521.4 1709.0,523.2 1711.0,525.0 C1712.9,526.8 1714.9,528.6 1716.9,530.4 C1718.9,532.2 1720.9,534.0 1722.9,535.7 C1724.9,537.4 1726.9,539.1 1728.9,540.8 C1730.8,542.4 1732.8,544.0 1734.8,545.5 C1736.8,547.0 1738.8,548.5 1740.8,549.9 C1742.8,551.2 1744.8,552.5 1746.8,553.7 C1748.7,554.9 1750.7,556.0 1752.7,557.0 C1754.7,558.0 1756.7,558.9 1758.7,559.7 C1760.7,560.5 1762.7,561.2 1764.7,561.7 C1766.6,562.3 1768.6,562.8 1770.6,563.3 C1772.6,563.7 1774.6,564.0 1776.6,564.3 C1778.6,564.6 1780.6,564.8 1782.6,564.9 C1784.5,565.1 1786.5,565.2 1788.5,565.2 C1790.5,565.3 1792.5,565.3 1794.5,565.2 C1796.5,565.1 1798.5,564.9 1800.5,564.7 C1802.4,564.4 1804.4,564.1 1806.4,563.6 C1808.4,563.2 1810.4,562.7 1812.4,562.1 C1814.4,561.5 1816.4,560.8 1818.4,559.9 C1820.3,559.1 1822.3,558.1 1824.3,557.1 C1826.3,556.0 1828.3,554.8 1830.3,553.5 C1832.3,552.2 1834.3,550.7 1836.3,549.1 C1838.3,547.5 1840.2,545.8 1842.2,543.9 C1844.2,542.0 1846.2,540.0 1848.2,537.8 C1850.2,535.6 1852.2,533.2 1854.2,530.7 C1856.2,528.1 1858.1,525.4 1860.1,522.6 C1862.1,519.7 1864.1,516.6 1866.1,513.3 C1868.1,510.1 1870.1,506.6 1872.1,503.0" fill="none" stroke="#7500ff" stroke-width="4.500" stroke-linecap="round" stroke-linejoin="round"/><path d="M1487.5,582.8 C1489.5,577.2 1491.5,571.8 1493.5,566.7 C1495.5,561.6 1497.5,556.8 1499.5,552.3 C1501.5,547.7 1503.5,543.4 1505.5,539.4 C1507.5,535.3 1509.5,531.5 1511.5,528.0 C1513.5,524.4 1515.5,521.1 1517.5,518.1 C1519.5,515.0 1521.5,512.2 1523.6,509.6 C1525.6,507.0 1527.6,504.6 1529.6,502.4 C1531.6,500.3 1533.6,498.4 1535.6,496.6 C1537.6,494.9 1539.6,493.4 1541.6,492.1 C1543.6,490.8 1545.6,489.7 1547.6,488.8 C1549.6,487.9 1551.6,487.2 1553.6,486.7 C1555.6,486.2 1557.6,485.8 1559.6,485.7 C1561.6,485.5 1563.6,485.5 1565.6,485.7 C1567.6,485.9 1569.6,486.3 1571.6,486.8 C1573.6,487.4 1575.6,488.1 1577.6,488.9 C1579.6,489.8 1581.6,490.8 1583.6,491.9 C1585.6,493.1 1587.6,494.4 1589.6,495.9 C1591.7,497.3 1593.7,498.9 1595.7,500.8 C1597.7,502.6 1599.7,504.5 1601.7,506.7 C1603.7,508.9 1605.7,511.3 1607.7,513.7 C1609.7,516.2 1611.7,518.8 1613.7,521.4 C1615.7,524.0 1617.7,526.6 1619.7,529.2 C1621.7,531.8 1623.7,534.3 1625.7,536.7 C1627.7,539.1 1629.7,541.4 1631.7,543.6 C1633.7,545.8 1635.7,547.9 1637.7,549.9 C1639.7,551.9 1641.7,553.8 1643.7,555.5 C1645.7,557.3 1647.7,558.9 1649.7,560.4 C1651.7,562.0 1653.7,563.4 1655.7,564.6 C1657.7,565.9 1659.8,567.0 1661.8,568.0 C1663.8,569.0 1665.8,569.8 1667.8,570.5 C1669.8,571.1 1671.8,571.6 1673.8,572.0 C1675.8,572.3 1677.8,572.4 1679.8,572.4 C1681.8,572.4 1683.8,572.1 1685.8,571.7 C1687.8,571.3 1689.8,570.7 1691.8,569.9 C1693.8,569.2 1695.8,568.2 1697.8,567.0 C1699.8,565.8 1701.8,564.5 1703.8,562.9 C1705.8,561.4 1707.8,559.6 1709.8,557.7 C1711.8,555.8 1713.8,553.6 1715.8,551.3 C1717.8,548.9 1719.8,546.4 1721.8,543.7 C1723.8,540.9 1725.8,538.0 1727.9,535.0 C1729.9,532.0 1731.9,528.9 1733.9,525.8 C1735.9,522.8 1737.9,519.8 1739.9,517.0 C1741.9,514.2 1743.9,511.6 1745.9,509.2 C1747.9,506.8 1749.9,504.7 1751.9,502.8 C1753.9,500.9 1755.9,499.2 1757.9,497.8 C1759.9,496.3 1761.9,495.1 1763.9,494.0 C1765.9,492.9 1767.9,492.0 1769.9,491.3 C1771.9,490.7 1773.9,490.1 1775.9,489.8 C1777.9,489.4 1779.9,489.2 1781.9,489.2 C1783.9,489.1 1785.9,489.2 1787.9,489.4 C1789.9,489.6 1791.9,490.0 1793.9,490.5 C1796.0,490.9 1798.0,491.5 1800.0,492.2 C1802.0,492.8 1804.0,493.6 1806.0,494.5 C1808.0,495.3 1810.0,496.3 1812.0,497.2 C1814.0,498.2 1816.0,499.1 1818.0,500.0 C1820.0,500.9 1822.0,501.7 1824.0,502.3 C1826.0,502.9 1828.0,503.4 1830.0,503.6 C1832.0,503.9 1834.0,503.8 1836.0,503.5 C1838.0,503.1 1840.0,502.4 1842.0,501.3 C1844.0,500.2 1846.0,498.6 1848.0,496.6 C1850.0,494.5 1852.0,492.0 1854.0,488.8 C1856.0,485.7 1858.0,482.0 1860.0,477.5 C1862.0,473.1 1864.1,467.8 1866.1,460.0 C1868.1,452.2 1870.1,441.6 1872.1,431.9" fill="none" stroke="#fd7e0c" stroke-width="4.500" stroke-linecap="round" stroke-linejoin="round"/><path d="M1493.6,580.6 C1495.6,579.8 1497.6,578.9 1499.6,578.0 C1501.6,577.0 1503.6,576.0 1505.6,575.0 C1507.6,573.9 1509.6,572.8 1511.6,571.7 C1513.6,570.6 1515.6,569.5 1517.6,568.4 C1519.6,567.3 1521.6,566.2 1523.6,565.2 C1525.6,564.1 1527.6,563.1 1529.6,562.2 C1531.6,561.2 1533.6,560.3 1535.6,559.5 C1537.6,558.6 1539.6,557.9 1541.6,557.3 C1543.6,556.6 1545.6,556.1 1547.6,555.7 C1549.6,555.3 1551.6,555.0 1553.6,554.9 C1555.6,554.7 1557.6,554.8 1559.6,554.9 C1561.6,555.1 1563.6,555.5 1565.6,555.9 C1567.6,556.3 1569.6,556.9 1571.6,557.5 C1573.6,558.1 1575.6,558.8 1577.6,559.4 C1579.6,560.1 1581.6,560.8 1583.6,561.4 C1585.6,562.1 1587.6,562.7 1589.6,563.2 C1591.6,563.8 1593.6,564.2 1595.6,564.5 C1597.6,564.8 1599.6,565.0 1601.6,565.1 C1603.6,565.1 1605.6,564.9 1607.6,564.6 C1609.6,564.2 1611.6,563.6 1613.6,562.8 C1615.6,561.9 1617.6,560.8 1619.6,559.3 C1621.6,557.9 1623.5,556.1 1625.5,553.6 C1627.5,551.0 1629.5,547.7 1631.5,543.3 C1633.5,538.8 1635.5,533.2 1637.5,527.0 C1639.5,520.9 1641.5,514.3 1643.5,508.0 C1645.5,501.8 1647.5,496.1 1649.5,491.2 C1651.5,486.4 1653.5,482.3 1655.5,478.9 C1657.5,475.4 1659.5,472.6 1661.5,470.2 C1663.5,467.9 1665.5,466.0 1667.5,464.5 C1669.5,463.1 1671.5,461.9 1673.5,461.0 C1675.5,460.1 1677.5,459.5 1679.5,459.1 C1681.5,458.7 1683.5,458.6 1685.5,458.7 C1687.5,458.7 1689.5,459.1 1691.5,459.6 C1693.5,460.2 1695.5,460.9 1697.5,461.9 C1699.5,462.9 1701.5,464.1 1703.5,465.5 C1705.5,466.9 1707.5,468.5 1709.5,470.3 C1711.5,472.1 1713.5,474.1 1715.5,476.3 C1717.5,478.5 1719.5,480.8 1721.5,483.2 C1723.5,485.6 1725.5,488.2 1727.5,490.7 C1729.5,493.2 1731.5,495.8 1733.5,498.3 C1735.5,500.8 1737.5,503.3 1739.5,505.7 C1741.5,508.1 1743.5,510.4 1745.5,512.5 C1747.5,514.6 1749.5,516.5 1751.5,518.2 C1753.5,520.0 1755.5,521.6 1757.5,522.9 C1759.5,524.3 1761.5,525.5 1763.5,526.6 C1765.5,527.6 1767.5,528.4 1769.5,529.1 C1771.5,529.7 1773.5,530.2 1775.5,530.5 C1777.5,530.8 1779.5,531.0 1781.5,531.0 C1783.5,531.1 1785.5,530.9 1787.5,530.7 C1789.5,530.5 1791.5,530.1 1793.5,529.6 C1795.5,529.2 1797.4,528.6 1799.4,527.9 C1801.4,527.3 1803.4,526.5 1805.4,525.7 C1807.4,524.9 1809.4,524.0 1811.4,523.1 C1813.4,522.2 1815.4,521.3 1817.4,520.5 C1819.4,519.7 1821.4,519.0 1823.4,518.4 C1825.4,517.8 1827.4,517.4 1829.4,517.2 C1831.4,517.0 1833.4,517.1 1835.4,517.4 C1837.4,517.7 1839.4,518.3 1841.4,519.1 C1843.4,519.8 1845.4,520.8 1847.4,521.9 C1849.4,523.0 1851.4,524.2 1853.4,525.6 C1855.4,527.0 1857.4,528.5 1859.4,530.0 C1861.4,531.6 1863.4,533.3 1865.4,535.0 C1867.4,536.7 1869.4,538.4 1871.4,540.2" fill="none" stroke="#00b048" stroke-width="4.500" stroke-linecap="round" stroke-linejoin="round"/></svg>
<div class="card" style="left:1416px;top:1007px;width:480px;height:380px"><div class="chead"></div><div class="ctitle" style="left:24px;top:19.500px;letter-spacing:0.10px">User Statistics</div><div class="sel" style="left:359px;top:12px"><span><i style="font-style:normal;letter-spacing:-0.250px">Overall</i></span><svg width="12" height="6.500" viewBox="0 0 11 6"><path d="M0.700,0.700 L5.500,5.300 L10.300,0.700" fill="none" stroke="#444" stroke-width="1.300" stroke-linecap="round" stroke-linejoin="round"/></svg></div></div>
<svg class="abs" style="left:0;top:0" width="1920" height="1342" viewBox="0 0 1920 1342"><path d="M1604.74,1094.30 A121.2,121.2 0 0 1 1526.47,1323.57 L1537.40,1287.59 A83.6,83.6 0 0 0 1591.39,1129.45 Z" fill="#7500ff" stroke="#fff" stroke-width="2" stroke-linejoin="round"/><path d="M1526.47,1323.57 A121.2,121.2 0 0 1 1461.10,1140.00 L1492.31,1160.97 A83.6,83.6 0 0 0 1537.40,1287.59 Z" fill="#fd7e0c" stroke="#fff" stroke-width="2" stroke-linejoin="round"/><path d="M1461.10,1140.00 A121.2,121.2 0 0 1 1604.74,1094.30 L1591.39,1129.45 A83.6,83.6 0 0 0 1492.31,1160.97 Z" fill="#00b048" stroke="#fff" stroke-width="2" stroke-linejoin="round"/></svg>
<div class="t" style="left:1481.7px;width:160px;text-align:center;top:1178px;font-size:30px;font-weight:700;color:#151515;letter-spacing:1.400px;text-indent:1.400px">75</div>
<div class="t" style="left:1481.7px;width:160px;text-align:center;top:1221px;font-size:16px;color:#333;letter-spacing:0.500px">Total Users</div>
<div class="abs" style="left:1737px;top:1165.0px;width:12px;height:12px;border-radius:50%;background:#7500ff"></div>
<div class="t" style="left:1755px;top:1162.5px;font-size:16.500px;color:#333;letter-spacing:0.200px">Customer: <b style="color:#151515">45</b></div>
<div class="abs" style="left:1737px;top:1201.2px;width:12px;height:12px;border-radius:50%;background:#fd7e0c"></div>
<div class="t" style="left:1755px;top:1198.7px;font-size:16.500px;color:#333;letter-spacing:0.200px">Store: <b style="color:#151515">23</b></div>
<div class="abs" style="left:1737px;top:1237.4px;width:12px;height:12px;border-radius:50%;background:#00b048"></div>
<div class="t" style="left:1755px;top:1234.9px;font-size:16.500px;color:#333;letter-spacing:0.200px">Delivery Man: <b style="color:#151515">7</b></div>
<div class="card sh" style="left:324px;top:561px;width:522px;height:388px"><div class="chead"></div><div class="ctitle" style="left:16px;top:19.500px;letter-spacing:0.12px">To Customers</div><div class="viewall" style="right:16px;top:20px">View All</div></div>
<svg class="abs" style="left:340px;top:635px" width="40" height="40" viewBox="0 0 40 40"><defs><clipPath id="cl1"><circle cx="20" cy="20" r="20"/></clipPath></defs><g clip-path="url(#cl1)"><rect width="40" height="40" fill="#1e1e14"/><rect x="0" y="4" width="12" height="24" fill="#4a4420"/><circle cx="4" cy="11" r="3" fill="#e08a1e"/><circle cx="8" cy="16" r="2.500" fill="#d9861f"/><circle cx="3" cy="20" r="2.400" fill="#c9781c"/><circle cx="7" cy="23" r="2" fill="#e39a3a"/><circle cx="29" cy="5" r="3" fill="#b5701e"/><circle cx="32" cy="10" r="2" fill="#5b6a2a"/><rect x="31.500" y="6" width="2.200" height="24" fill="#6e4a30"/><path d="M10,40 L14,33 L27,25 L37,31 L34,40z" fill="#7c7e72"/><path d="M14,40 L16,32 L24,38 L22,40z" fill="#3a4034"/><path d="M15,24 L27,22 L27,30 L22,38 L16,32z" fill="#c48d66"/><path d="M10.300,14 C10,6 14,3.500 19.500,3.500 C25,3.500 28.600,7 28.300,14 C28.200,20 26,24.500 23,26.800 C21,28.200 18.500,28.200 16.500,26.800 C12.500,24 10.500,20 10.300,14z" fill="#d9a57e"/><path d="M9.800,13 C8.500,5 13,0.400 20,0.400 C26,0.400 30,4.500 28.600,12.500 C27.500,8.500 25,6.500 21,6.300 C16,6 12.500,8 11.300,13z" fill="#7d5034"/><path d="M12.500,13.400 q2.500,-1.300 5,0 M20.500,13.400 q2.500,-1.300 5,0" stroke="#5a3a26" stroke-width="1.300" fill="none"/><path d="M16.500,22.300 h5.500" stroke="#9a5f44" stroke-width="1.100"/><path d="M18.800,14 L18,18.800 L20.500,18.800" stroke="#b47a58" stroke-width="0.900" fill="none"/></g></svg>
<div class="t" style="left:392px;top:635.5px;font-size:16px;color:#1c1c1c;letter-spacing:0.05px">Marvin McKinney</div>
<div class="t" style="left:392px;top:661px;font-size:14px;color:#6a6a6a;letter-spacing:0.050px">239.555.0108</div>
<div class="abs" style="left:750px;top:641px;width:80px;height:28px;border-radius:4px;background:#e5f6ec"></div><div class="t" style="left:750px;width:80px;text-align:center;top:648px;font-size:14px;color:#00a84a;letter-spacing:-0.200px;-webkit-text-stroke:0.250px #00a84a">Orders: 15</div>
<svg class="abs" style="left:340px;top:699px" width="40" height="40" viewBox="0 0 40 40"><defs><clipPath id="cl2"><circle cx="20" cy="20" r="20"/></clipPath></defs><g clip-path="url(#cl2)"><rect width="40" height="40" fill="#fbf8f4"/><path d="M0,6 L9,2 L6,14 L8,26 L4,40 L0,40z" fill="#e0843a"/><path d="M0,15 L4,14 L5,22 L0,24z" fill="#3e4a2e"/><path d="M33,12 L40,13 V40 H34 L36,26z" fill="#46532f"/><path d="M32,12 L40,12 L40,18 L35,16z" fill="#e38c40"/><path d="M7,40 C5,30 6,12 14,5 C18,1.500 25,1.500 28.500,6 C33,12 37,24 35,34 L30,40z" fill="#d9b79a"/><path d="M9,40 C8,30 10,20 13,14 L15,30 L14,40z" fill="#c99a72"/><path d="M27,12 C31,18 33,28 30,36 L26,30z" fill="#c9a07e"/><path d="M24,34 L36,31 L37,40 H22z" fill="#1d1a1c"/><path d="M10,40 L12,36 L16,40z" fill="#1d1a1c"/><path d="M14,30 L25,30 L26,40 L13,40z" fill="#d9a98c"/><ellipse cx="19" cy="17.500" rx="7.600" ry="10" fill="#e3b69b" transform="rotate(-6 19 17.500)"/><path d="M11.500,15 C12,7 17,4 22,5.500 C26,7 27.500,11 27.500,16 C26,11 23,8.500 19.500,8.500 C15.500,8.500 13,11 11.500,15z" fill="#c9a583"/><path d="M14.800,21.600 q3.500,3.400 7.500,-0.200 q-3.700,1 -7.500,0.200z" fill="#fff" stroke="#c47a6a" stroke-width="0.700"/><path d="M13.500,13.600 q2,-1 3.800,0 M20,13.200 q2,-1 3.800,0" stroke="#5a4636" stroke-width="1.100" fill="none"/></g></svg>
<div class="t" style="left:392px;top:699.5px;font-size:16px;color:#1c1c1c;letter-spacing:-0.11px">Cameron Williamson</div>
<div class="t" style="left:392px;top:725px;font-size:14px;color:#6a6a6a;letter-spacing:0.050px">684.555.0102</div>
<div class="abs" style="left:750px;top:705px;width:80px;height:28px;border-radius:4px;background:#e5f6ec"></div><div class="t" style="left:750px;width:80px;text-align:center;top:712px;font-size:14px;color:#00a84a;letter-spacing:-0.200px;-webkit-text-stroke:0.250px #00a84a">Orders: 15</div>
<svg class="abs" style="left:340px;top:763px" width="40" height="40" viewBox="0 0 40 40"><defs><clipPath id="cl3"><circle cx="20" cy="20" r="20"/></clipPath></defs><g clip-path="url(#cl3)"><rect width="40" height="40" fill="#fbfaf3"/><circle cx="20" cy="15" r="8.600" fill="#8a8f96"/><ellipse cx="20" cy="40" rx="18" ry="12" fill="#8a8f96"/></g><circle cx="20" cy="20" r="19.500" fill="none" stroke="#e0e0e0" stroke-width="1"/></svg>
<div class="t" style="left:392px;top:763.5px;font-size:16px;color:#1c1c1c;letter-spacing:0.11px">Courtney Henry</div>
<div class="t" style="left:392px;top:789px;font-size:14px;color:#6a6a6a;letter-spacing:0.050px">219.555.0114</div>
<div class="abs" style="left:750px;top:769px;width:80px;height:28px;border-radius:4px;background:#e5f6ec"></div><div class="t" style="left:750px;width:80px;text-align:center;top:776px;font-size:14px;color:#00a84a;letter-spacing:-0.200px;-webkit-text-stroke:0.250px #00a84a">Orders: 15</div>
<svg class="abs" style="left:340px;top:827px" width="40" height="40" viewBox="0 0 40 40"><defs><clipPath id="cl4"><circle cx="20" cy="20" r="20"/></clipPath></defs><g clip-path="url(#cl4)"><rect width="40" height="40" fill="#f0f0f4"/><path d="M3,42 L5,32 C9,29.500 13,28.500 16,27.500 L27,27 C31,28.500 35,30 37.500,32 L38,42z" fill="#86bbef"/><path d="M20,42 L26,30 L37.500,32 L38,42z" fill="#9ccaf5"/><path d="M12.300,24 L26,23 L26.500,28 C24,32 20,34 16,33.500 C13.500,33 12,31 12.300,28z" fill="#70483a"/><path d="M11.400,13 C11,6 14.500,3 19.500,3 C24.500,3 28,6 27.500,13 C27.400,18 26.400,22 24.500,24.600 C22,27.500 17,27.500 14.500,24.600 C12.500,22 11.500,18 11.400,13z" fill="#8a6050"/><circle cx="11" cy="16.600" r="1.500" fill="#7c5444"/><circle cx="27.800" cy="16.600" r="1.500" fill="#7c5444"/><path d="M11,14 C9.500,6 14,1.800 19.500,1.800 C25,1.800 29.500,6 28,14 C27.500,9.500 25.500,6.500 23,5.800 C20.500,5.200 18.500,5.200 16,5.800 C13.500,6.500 11.500,9.500 11,14z" fill="#131826"/><path d="M13.600,19 C13.800,24 16.500,27.600 19.500,27.600 C22.500,27.600 25.200,24 25.400,19 C24,20.500 22,20.800 19.500,20.800 C17,20.800 15,20.500 13.600,19z" fill="#231a1c"/><path d="M15,18.300 h9" stroke="#2a1c1c" stroke-width="1.200"/><path d="M17.500,19.800 h4" stroke="#9a6a5a" stroke-width="1"/><path d="M13.800,12.300 q2,-1 4,0 M21,12.300 q2,-1 4,0" stroke="#2a1a18" stroke-width="1.300" fill="none"/><path d="M18,14 h3 v2.600 h-3z" fill="#6a4438"/></g></svg>
<div class="t" style="left:392px;top:827.5px;font-size:16px;color:#1c1c1c;letter-spacing:-0.03px">Arlene McCoy</div>
<div class="t" style="left:392px;top:853px;font-size:14px;color:#6a6a6a;letter-spacing:0.050px">406.555.0120</div>
<div class="abs" style="left:750px;top:833px;width:80px;height:28px;border-radius:4px;background:#e5f6ec"></div><div class="t" style="left:750px;width:80px;text-align:center;top:840px;font-size:14px;color:#00a84a;letter-spacing:-0.200px;-webkit-text-stroke:0.250px #00a84a">Orders: 15</div>
<svg class="abs" style="left:340px;top:891px" width="40" height="40" viewBox="0 0 40 40"><defs><clipPath id="cl5"><circle cx="20" cy="20" r="20"/></clipPath></defs><g clip-path="url(#cl5)"><rect width="40" height="40" fill="#e2eff3"/><rect x="0" y="2.5" width="18" height="2.300" fill="#4f7f96"/><rect x="18" y="2.5" width="22" height="2.300" fill="#1c1f22"/><rect x="0" y="6.8" width="18" height="2.300" fill="#4f7f96"/><rect x="18" y="6.8" width="22" height="2.300" fill="#1c1f22"/><rect x="0" y="11.0" width="18" height="2.300" fill="#4f7f96"/><rect x="18" y="11.0" width="22" height="2.300" fill="#1c1f22"/><rect x="0" y="15.2" width="18" height="2.300" fill="#4f7f96"/><rect x="18" y="15.2" width="22" height="2.300" fill="#1c1f22"/><rect x="0" y="19.5" width="18" height="2.300" fill="#4f7f96"/><rect x="18" y="19.5" width="22" height="2.300" fill="#1c1f22"/><rect x="0" y="23.8" width="18" height="2.300" fill="#4f7f96"/><rect x="18" y="23.8" width="22" height="2.300" fill="#1c1f22"/><rect x="0" y="28.0" width="18" height="2.300" fill="#4f7f96"/><rect x="18" y="28.0" width="22" height="2.300" fill="#1c1f22"/><rect x="0" y="32.2" width="18" height="2.300" fill="#4f7f96"/><rect x="18" y="32.2" width="22" height="2.300" fill="#1c1f22"/><rect x="0" y="36.5" width="18" height="2.300" fill="#4f7f96"/><rect x="18" y="36.5" width="22" height="2.300" fill="#1c1f22"/><path d="M6,30 C8,27 12,26 15,27 L17,40 H8z" fill="#f1ddd2"/><path d="M13,31 L25,30 L27,40 H13z" fill="#a9c1ca"/><path d="M9.500,12 C12,5 19,4 22,8 L24,24 C22,29 18,31 15,29.500 C11,27 8,19 9.500,12z" fill="#ecc7b6"/><path d="M5.500,12 C7,3 15,-1 22,1 C30,3 33,10 34,18 C35,26 37,30 35,35 C32,39 27,40 25,38 C27,32 24,26 21,19 C19,13 15,9 10,9 C8,9.500 6.500,10.500 5.500,12z" fill="#a8765a"/><path d="M20,6 C26,8 29,14 30,22 C31,28 33,33 31,37 C28,32 26,26 24,20 C23,14 22,9 20,6z" fill="#c49a7c"/><path d="M10.500,16 q2.500,-1.500 5,0" stroke="#4a3a3a" stroke-width="1.300" fill="none"/><circle cx="13" cy="17.300" r="1" fill="#3f6a84"/><path d="M14.500,25.300 q2,1 4.500,0" stroke="#c4564e" stroke-width="1.600" fill="none"/></g></svg>
<div class="t" style="left:392px;top:891.5px;font-size:16px;color:#1c1c1c;letter-spacing:-0.14px">Theresa Webb</div>
<div class="t" style="left:392px;top:917px;font-size:14px;color:#6a6a6a;letter-spacing:0.050px">907.555.0101</div>
<div class="abs" style="left:750px;top:897px;width:80px;height:28px;border-radius:4px;background:#e5f6ec"></div><div class="t" style="left:750px;width:80px;text-align:center;top:904px;font-size:14px;color:#00a84a;letter-spacing:-0.200px;-webkit-text-stroke:0.250px #00a84a">Orders: 15</div>
<div class="card sh" style="left:870px;top:561px;width:522px;height:388px"><div class="chead"></div><div class="ctitle" style="left:16px;top:19.500px;letter-spacing:-0.01px">Top Selling Items</div><div class="viewall" style="right:16px;top:20px">View All</div></div>
<svg class="abs" style="left:886px;top:635px" width="40" height="40" viewBox="0 0 40 40"><rect x="12.400" y="2.800" width="20.700" height="29.700" rx="1.300" fill="#1a73d9"/><path d="M33.100,14.500 V31.200 a1.300,1.300 0 0 1 -1.300,1.300 H20 C26,30 31,22 33.100,14.500z" fill="#e8742a"/><path d="M17.500,8.400 h12 l-0.600,2.400 h-12z M15.500,11.400 h16 l-0.600,2.400 h-16z" fill="#f4f8fe"/><path d="M15,21 L27,16 L32,19 L31,25 L22,29.500 L15.500,27z" fill="#7a3d1c"/><path d="M19,23 L27,20.500 L29,25 L21,28z" fill="#f5b84a"/><circle cx="17.500" cy="18" r="2.200" fill="#e8862a"/><circle cx="21" cy="16.600" r="1.800" fill="#d9741f"/><path d="M3,29.300 L26.600,30.600 L26,38 L5,36.500z" fill="#1e6fd6"/><path d="M3,29.300 L9,29.600 L10,36.900 L5,36.500z" fill="#1a3a9a"/><path d="M16,30 L26.600,30.600 L26,38 L17,37.300z" fill="#e8742a"/><path d="M8,31.300 L15,31.700 L14.800,34.300 L8.300,33.900z" fill="#eef4fd"/></svg>
<div class="t" style="left:938px;top:635.5px;font-size:16px;color:#1c1c1c;letter-spacing:-0.13px">Protein Bar</div>
<svg class="abs" style="left:0;top:0" width="1920" height="1342"><polygon points="945.00,661.30 946.59,665.42 950.99,665.65 947.57,668.43 948.70,672.70 945.00,670.30 941.30,672.70 942.43,668.43 939.01,665.65 943.41,665.42" fill="#ffb400" stroke="#ffb400" stroke-width="0.600" stroke-linejoin="round"/><polygon points="959.00,661.30 960.59,665.42 964.99,665.65 961.57,668.43 962.70,672.70 959.00,670.30 955.30,672.70 956.43,668.43 953.01,665.65 957.41,665.42" fill="#ffb400" stroke="#ffb400" stroke-width="0.600" stroke-linejoin="round"/><polygon points="973.00,661.30 974.59,665.42 978.99,665.65 975.57,668.43 976.70,672.70 973.00,670.30 969.30,672.70 970.43,668.43 967.01,665.65 971.41,665.42" fill="#ffb400" stroke="#ffb400" stroke-width="0.600" stroke-linejoin="round"/><polygon points="987.00,661.30 988.59,665.42 992.99,665.65 989.57,668.43 990.70,672.70 987.00,670.30 983.30,672.70 984.43,668.43 981.01,665.65 985.41,665.42" fill="#ffb400" stroke="#ffb400" stroke-width="0.600" stroke-linejoin="round"/><polygon points="1001.00,661.30 1002.59,665.42 1006.99,665.65 1003.57,668.43 1004.70,672.70 1001.00,670.30 997.30,672.70 998.43,668.43 995.01,665.65 999.41,665.42" fill="#fff" stroke="#8a8a8a" stroke-width="0.900" stroke-linejoin="round"/></svg>
<div class="t" style="left:1012.500px;top:660px;font-size:14px;color:#6a6a6a;letter-spacing:0.300px">(24)</div>
<div class="abs" style="left:1305px;top:641px;width:71px;height:28px;border-radius:4px;background:#ffe9d6"></div><div class="t" style="left:1305px;width:71px;text-align:center;top:648px;font-size:13.500px;color:#fd7e0c;letter-spacing:-0.150px;-webkit-text-stroke:0.250px #fd7e0c">Sales: 15</div>
<svg class="abs" style="left:886px;top:699px" width="40" height="40" viewBox="0 0 40 40"><circle cx="20" cy="20" r="19.500" fill="#f4f4f4" stroke="#e4e4e4" stroke-width="1"/><rect x="12.200" y="12.200" width="15.600" height="15.600" rx="2" fill="none" stroke="#555" stroke-width="1.400"/><circle cx="16.600" cy="16.600" r="1.500" fill="none" stroke="#555" stroke-width="1.200"/><path d="M13.500,27.500 L23.500,18.500 L27.800,22.500" fill="none" stroke="#555" stroke-width="1.400" stroke-linejoin="round"/></svg>
<div class="t" style="left:938px;top:699.5px;font-size:16px;color:#1c1c1c;letter-spacing:-0.32px">Palm Bliss</div>
<svg class="abs" style="left:0;top:0" width="1920" height="1342"><polygon points="945.00,725.30 946.59,729.42 950.99,729.65 947.57,732.43 948.70,736.70 945.00,734.30 941.30,736.70 942.43,732.43 939.01,729.65 943.41,729.42" fill="#ffb400" stroke="#ffb400" stroke-width="0.600" stroke-linejoin="round"/><polygon points="959.00,725.30 960.59,729.42 964.99,729.65 961.57,732.43 962.70,736.70 959.00,734.30 955.30,736.70 956.43,732.43 953.01,729.65 957.41,729.42" fill="#ffb400" stroke="#ffb400" stroke-width="0.600" stroke-linejoin="round"/><polygon points="973.00,725.30 974.59,729.42 978.99,729.65 975.57,732.43 976.70,736.70 973.00,734.30 969.30,736.70 970.43,732.43 967.01,729.65 971.41,729.42" fill="#ffb400" stroke="#ffb400" stroke-width="0.600" stroke-linejoin="round"/><polygon points="987.00,725.30 988.59,729.42 992.99,729.65 989.57,732.43 990.70,736.70 987.00,734.30 983.30,736.70 984.43,732.43 981.01,729.65 985.41,729.42" fill="#ffb400" stroke="#ffb400" stroke-width="0.600" stroke-linejoin="round"/><polygon points="1001.00,725.30 1002.59,729.42 1006.99,729.65 1003.57,732.43 1004.70,736.70 1001.00,734.30 997.30,736.70 998.43,732.43 995.01,729.65 999.41,729.42" fill="#ffb400" stroke="#ffb400" stroke-width="0.600" stroke-linejoin="round"/></svg>
<div class="t" style="left:1012.500px;top:724px;font-size:14px;color:#6a6a6a;letter-spacing:0.300px">(35)</div>
<div class="abs" style="left:1305px;top:705px;width:71px;height:28px;border-radius:4px;background:#ffe9d6"></div><div class="t" style="left:1305px;width:71px;text-align:center;top:712px;font-size:13.500px;color:#fd7e0c;letter-spacing:-0.150px;-webkit-text-stroke:0.250px #fd7e0c">Sales: 15</div>
<svg class="abs" style="left:886px;top:763px" width="40" height="40" viewBox="0 0 40 40"><defs><radialGradient id="cg"><stop offset="0" stop-color="#fafafa"/><stop offset="1" stop-color="#eff0f1"/></radialGradient></defs><circle cx="20" cy="20" r="20" fill="url(#cg)"/><path d="M13,9.200 L17,8.800 L21.500,10.800 L25.400,12.900 L30.200,16.200 L30.400,25 L25.400,26.800 L18.500,21.500 L12.900,18z" fill="#121315"/><path d="M21,10.500 L25,11 L27,13.500 L23,13z" fill="#26282c"/><path d="M15.500,18.200 L19.500,21.500 L16.500,31.500 L8.500,27.500z" fill="#0d0e10"/><ellipse cx="12.200" cy="28" rx="3.400" ry="5.200" transform="rotate(-38 12.200 28)" fill="#1a1c1f"/><ellipse cx="12.400" cy="27.800" rx="2" ry="3.600" transform="rotate(-38 12.400 27.800)" fill="#5d8a66"/><ellipse cx="12.900" cy="27.300" rx="1" ry="2.200" transform="rotate(-38 12.900 27.300)" fill="#c9d9c4"/></svg>
<div class="t" style="left:938px;top:763.5px;font-size:16px;color:#1c1c1c;letter-spacing:-0.5px">DSLR camera</div>
<svg class="abs" style="left:0;top:0" width="1920" height="1342"><polygon points="945.00,789.30 946.59,793.42 950.99,793.65 947.57,796.43 948.70,800.70 945.00,798.30 941.30,800.70 942.43,796.43 939.01,793.65 943.41,793.42" fill="#ffb400" stroke="#ffb400" stroke-width="0.600" stroke-linejoin="round"/><polygon points="959.00,789.30 960.59,793.42 964.99,793.65 961.57,796.43 962.70,800.70 959.00,798.30 955.30,800.70 956.43,796.43 953.01,793.65 957.41,793.42" fill="#ffb400" stroke="#ffb400" stroke-width="0.600" stroke-linejoin="round"/><polygon points="973.00,789.30 974.59,793.42 978.99,793.65 975.57,796.43 976.70,800.70 973.00,798.30 969.30,800.70 970.43,796.43 967.01,793.65 971.41,793.42" fill="#ffb400" stroke="#ffb400" stroke-width="0.600" stroke-linejoin="round"/><polygon points="987.00,789.30 988.59,793.42 992.99,793.65 989.57,796.43 990.70,800.70 987.00,798.30 983.30,800.70 984.43,796.43 981.01,793.65 985.41,793.42" fill="#fff" stroke="#8a8a8a" stroke-width="0.900" stroke-linejoin="round"/><polygon points="1001.00,789.30 1002.59,793.42 1006.99,793.65 1003.57,796.43 1004.70,800.70 1001.00,798.30 997.30,800.70 998.43,796.43 995.01,793.65 999.41,793.42" fill="#fff" stroke="#8a8a8a" stroke-width="0.900" stroke-linejoin="round"/></svg>
<div class="t" style="left:1012.500px;top:788px;font-size:14px;color:#6a6a6a;letter-spacing:0.300px">(20)</div>
<div class="abs" style="left:1305px;top:769px;width:71px;height:28px;border-radius:4px;background:#ffe9d6"></div><div class="t" style="left:1305px;width:71px;text-align:center;top:776px;font-size:13.500px;color:#fd7e0c;letter-spacing:-0.150px;-webkit-text-stroke:0.250px #fd7e0c">Sales: 15</div>
<svg class="abs" style="left:886px;top:827px" width="40" height="40" viewBox="0 0 40 40"><path d="M8,5 C8,2.500 12,1.400 20,1.400 C28,1.400 31.800,2.500 31.800,5 V40 H8z" fill="#f0e0cc"/><path d="M15,11.500 C15,9 17,7.500 18,6.500 L16,5.500 C17,3.500 23,3.500 24,5.500 L22,6.500 C23,7.500 25.500,9 25.500,11.500z" fill="#1f3a6e"/><circle cx="20" cy="6.600" r="1.700" fill="#f2d9c4"/><path d="M19,8 h3 l1,3 h-5z" fill="#f4f6fa"/><rect x="9.900" y="13.700" width="20.300" height="10.500" fill="#1f4a8c"/><rect x="9.900" y="24.100" width="20.300" height="3" fill="#2fa4e4"/><path d="M12.500,16 h15 v2.800 h-15z M13.500,19.800 h13 v2.800 h-13z" fill="#e4ebf6"/><rect x="16" y="24.900" width="8" height="1.300" fill="#e8f4fc"/><path d="M10.800,31 L16,28.700 L20.400,30.500 L20.400,36 L15,37.500 L10.800,36z" fill="#f5da6c"/><path d="M10.800,31 L16,28.700 L20.400,30.500 L15.500,32.500z" fill="#fbe88e"/><ellipse cx="25.500" cy="32.500" rx="4.800" ry="4.200" fill="#d9b27c"/><circle cx="23" cy="34.500" r="2.400" fill="#c99a62"/><circle cx="27.500" cy="30" r="2.200" fill="#e3c08e"/><circle cx="19.500" cy="27.800" r="1" fill="#e0382c"/></svg>
<div class="t" style="left:938px;top:827.5px;font-size:16px;color:#1c1c1c;letter-spacing:-0.22px">Quaker Meal</div>
<svg class="abs" style="left:0;top:0" width="1920" height="1342"><polygon points="945.00,853.30 946.59,857.42 950.99,857.65 947.57,860.43 948.70,864.70 945.00,862.30 941.30,864.70 942.43,860.43 939.01,857.65 943.41,857.42" fill="#ffb400" stroke="#ffb400" stroke-width="0.600" stroke-linejoin="round"/><polygon points="959.00,853.30 960.59,857.42 964.99,857.65 961.57,860.43 962.70,864.70 959.00,862.30 955.30,864.70 956.43,860.43 953.01,857.65 957.41,857.42" fill="#ffb400" stroke="#ffb400" stroke-width="0.600" stroke-linejoin="round"/><polygon points="973.00,853.30 974.59,857.42 978.99,857.65 975.57,860.43 976.70,864.70 973.00,862.30 969.30,864.70 970.43,860.43 967.01,857.65 971.41,857.42" fill="#ffb400" stroke="#ffb400" stroke-width="0.600" stroke-linejoin="round"/><polygon points="987.00,853.30 988.59,857.42 992.99,857.65 989.57,860.43 990.70,864.70 987.00,862.30 983.30,864.70 984.43,860.43 981.01,857.65 985.41,857.42" fill="#ffb400" stroke="#ffb400" stroke-width="0.600" stroke-linejoin="round"/><polygon points="1001.00,853.30 1002.59,857.42 1006.99,857.65 1003.57,860.43 1004.70,864.70 1001.00,862.30 997.30,864.70 998.43,860.43 995.01,857.65 999.41,857.42" fill="#fff" stroke="#8a8a8a" stroke-width="0.900" stroke-linejoin="round"/></svg>
<div class="t" style="left:1012.500px;top:852px;font-size:14px;color:#6a6a6a;letter-spacing:0.300px">(30)</div>
<div class="abs" style="left:1305px;top:833px;width:71px;height:28px;border-radius:4px;background:#ffe9d6"></div><div class="t" style="left:1305px;width:71px;text-align:center;top:840px;font-size:13.500px;color:#fd7e0c;letter-spacing:-0.150px;-webkit-text-stroke:0.250px #fd7e0c">Sales: 15</div>
<svg class="abs" style="left:886px;top:891px" width="40" height="40" viewBox="0 0 40 40"><rect x="8" y="5.100" width="11.500" height="31.900" rx="1.600" fill="#8ed8f5"/><circle cx="10.300" cy="7.800" r="1" fill="#1a2430"/><circle cx="10.300" cy="10.300" r="1" fill="#1a2430"/><circle cx="10.300" cy="12.700" r="1" fill="#1a2430"/><circle cx="12.300" cy="9" r="0.450" fill="#34485a"/><rect x="18" y="4.900" width="14.300" height="32" rx="1.800" fill="#141b3a"/><rect x="18.900" y="5.700" width="12.600" height="30.400" rx="1.200" fill="#1038c8"/><path d="M21.500,17 V10.200 L25,14.200 L28.500,10.200 V17" fill="none" stroke="#f4d41f" stroke-width="2.100" stroke-linejoin="miter"/><path d="M20.800,17.600 h3.600 v3.200 h-2.600 h2.600 v3.400 h-3.600 M25.600,17.600 h3.600 v3.300 h-3.600 v3.300 h3.800" fill="none" stroke="#fff" stroke-width="1.500"/><rect x="22.600" y="26" width="5.800" height="4.200" fill="#f4d41f"/><path d="M19.500,29 L30.500,12" stroke="#35d0c8" stroke-width="0.500"/></svg>
<div class="t" style="left:938px;top:891.5px;font-size:16px;color:#1c1c1c;letter-spacing:-0.07px">Samsung M32 - 64 GB</div>
<svg class="abs" style="left:0;top:0" width="1920" height="1342"><polygon points="945.00,917.30 946.59,921.42 950.99,921.65 947.57,924.43 948.70,928.70 945.00,926.30 941.30,928.70 942.43,924.43 939.01,921.65 943.41,921.42" fill="#ffb400" stroke="#ffb400" stroke-width="0.600" stroke-linejoin="round"/><polygon points="959.00,917.30 960.59,921.42 964.99,921.65 961.57,924.43 962.70,928.70 959.00,926.30 955.30,928.70 956.43,924.43 953.01,921.65 957.41,921.42" fill="#ffb400" stroke="#ffb400" stroke-width="0.600" stroke-linejoin="round"/><polygon points="973.00,917.30 974.59,921.42 978.99,921.65 975.57,924.43 976.70,928.70 973.00,926.30 969.30,928.70 970.43,924.43 967.01,921.65 971.41,921.42" fill="#ffb400" stroke="#ffb400" stroke-width="0.600" stroke-linejoin="round"/><polygon points="987.00,917.30 988.59,921.42 992.99,921.65 989.57,924.43 990.70,928.70 987.00,926.30 983.30,928.70 984.43,924.43 981.01,921.65 985.41,921.42" fill="#ffb400" stroke="#ffb400" stroke-width="0.600" stroke-linejoin="round"/><polygon points="1001.00,917.30 1002.59,921.42 1006.99,921.65 1003.57,924.43 1004.70,928.70 1001.00,926.30 997.30,928.70 998.43,924.43 995.01,921.65 999.41,921.42" fill="#fff" stroke="#8a8a8a" stroke-width="0.900" stroke-linejoin="round"/></svg>
<div class="t" style="left:1012.500px;top:916px;font-size:14px;color:#6a6a6a;letter-spacing:0.300px">(24)</div>
<div class="abs" style="left:1305px;top:897px;width:71px;height:28px;border-radius:4px;background:#ffe9d6"></div><div class="t" style="left:1305px;width:71px;text-align:center;top:904px;font-size:13.500px;color:#fd7e0c;letter-spacing:-0.150px;-webkit-text-stroke:0.250px #fd7e0c">Sales: 15</div>
<div class="card sh" style="left:1416px;top:671px;width:480px;height:312px"><div class="chead"></div><div class="ctitle" style="left:16px;top:19.500px;letter-spacing:-0.13px">Top Brands</div><div class="viewall" style="right:16px;top:20px">View All</div></div>
<div class="t" style="left:1432px;top:755px;font-size:15.500px;color:#1c1c1c;letter-spacing:0.1px">Samsung</div>
<div class="t" style="right:40px;top:757px;font-size:13.500px;color:#333">45</div>
<div class="t" style="left:1432px;top:801px;font-size:15.500px;color:#1c1c1c;letter-spacing:0.02px">Fashion</div>
<div class="t" style="right:40px;top:803px;font-size:13.500px;color:#333">57</div>
<div class="t" style="left:1432px;top:847px;font-size:15.500px;color:#1c1c1c;letter-spacing:0.3px">Apple</div>
<div class="t" style="right:40px;top:849px;font-size:13.500px;color:#333">30</div>
<div class="t" style="left:1432px;top:893px;font-size:15.500px;color:#1c1c1c;letter-spacing:0.22px">General Motors</div>
<div class="t" style="right:40px;top:895px;font-size:13.500px;color:#333">15</div>
<div class="t" style="left:1432px;top:939px;font-size:15.500px;color:#1c1c1c;letter-spacing:0px">Foods</div>
<div class="t" style="right:40px;top:941px;font-size:13.500px;color:#333">25</div>
</body></html>
